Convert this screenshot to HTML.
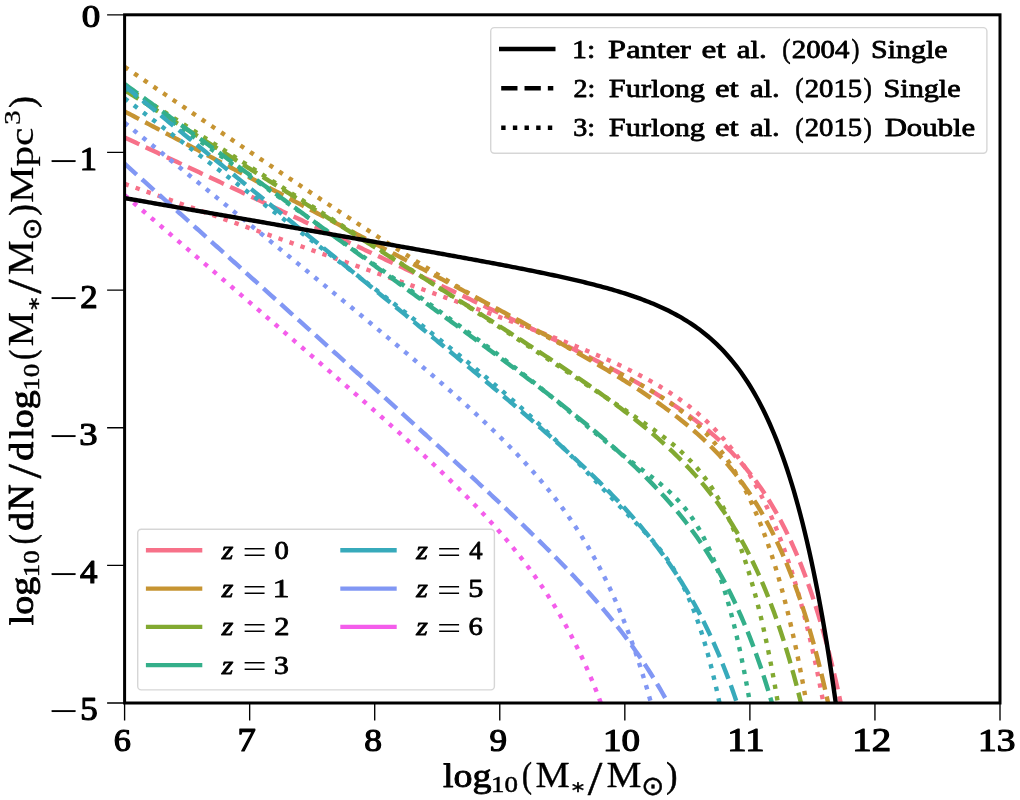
<!DOCTYPE html>
<html lang="en"><head><meta charset="utf-8"><title>Galaxy stellar mass functions</title>
<style>
html,body{margin:0;padding:0;background:#fff;}
body{width:1020px;height:800px;overflow:hidden;}
svg{display:block;}
text{font-family:"Liberation Serif","DejaVu Serif",serif;fill:#000;}
.b{font-weight:bold;}
.tk{font-size:34.6px;font-weight:bold;}
.lg{font-size:26.4px;font-weight:bold;}
.mi{font-style:italic;font-weight:bold;}
</style></head><body>
<svg width="1020" height="800" viewBox="0 0 1020 800">
<rect x="0" y="0" width="1020" height="800" fill="#fff"/>
<defs><clipPath id="ax"><rect x="124.60" y="14.80" width="875.40" height="688.20"/></clipPath></defs>
<g clip-path="url(#ax)">
<path d="M124.60 137.47 L126.79 138.49 L128.99 139.52 L131.18 140.55 L133.38 141.57 L135.57 142.60 L137.76 143.63 L139.96 144.65 L142.15 145.68 L144.35 146.70 L146.54 147.73 L148.73 148.76 L150.93 149.78 L153.12 150.81 L155.32 151.84 L157.51 152.86 L159.70 153.89 L161.90 154.91 L164.09 155.94 L166.29 156.97 L168.48 157.99 L170.67 159.02 L172.87 160.05 L175.06 161.07 L177.26 162.10 L179.45 163.13 L181.64 164.15 L183.84 165.18 L186.03 166.20 L188.23 167.23 L190.42 168.26 L192.61 169.28 L194.81 170.31 L197.00 171.34 L199.20 172.36 L201.39 173.39 L203.58 174.41 L205.78 175.44 L207.97 176.47 L210.17 177.49 L212.36 178.52 L214.55 179.55 L216.75 180.57 L218.94 181.60 L221.14 182.63 L223.33 183.65 L225.52 184.68 L227.72 185.70 L229.91 186.73 L232.11 187.76 L234.30 188.78 L236.49 189.81 L238.69 190.84 L240.88 191.86 L243.08 192.89 L245.27 193.92 L247.46 194.94 L249.66 195.97 L251.85 197.00 L254.05 198.02 L256.24 199.05 L258.43 200.07 L260.63 201.10 L262.82 202.13 L265.02 203.15 L267.21 204.18 L269.40 205.21 L271.60 206.23 L273.79 207.26 L275.98 208.29 L278.18 209.31 L280.37 210.34 L282.57 211.37 L284.76 212.39 L286.95 213.42 L289.15 214.45 L291.34 215.47 L293.54 216.50 L295.73 217.53 L297.92 218.55 L300.12 219.58 L302.31 220.61 L304.51 221.63 L306.70 222.66 L308.89 223.69 L311.09 224.71 L313.28 225.74 L315.48 226.77 L317.67 227.79 L319.86 228.82 L322.06 229.85 L324.25 230.87 L326.45 231.90 L328.64 232.93 L330.83 233.96 L333.03 234.98 L335.22 236.01 L337.42 237.04 L339.61 238.06 L341.80 239.09 L344.00 240.12 L346.19 241.15 L348.39 242.17 L350.58 243.20 L352.77 244.23 L354.97 245.26 L357.16 246.28 L359.36 247.31 L361.55 248.34 L363.74 249.37 L365.94 250.39 L368.13 251.42 L370.33 252.45 L372.52 253.48 L374.71 254.50 L376.91 255.53 L379.10 256.56 L381.30 257.59 L383.49 258.62 L385.68 259.65 L387.88 260.67 L390.07 261.70 L392.27 262.73 L394.46 263.76 L396.65 264.79 L398.85 265.82 L401.04 266.85 L403.24 267.88 L405.43 268.91 L407.62 269.93 L409.82 270.96 L412.01 271.99 L414.21 273.02 L416.40 274.05 L418.59 275.08 L420.79 276.11 L422.98 277.14 L425.18 278.18 L427.37 279.21 L429.56 280.24 L431.76 281.27 L433.95 282.30 L436.15 283.33 L438.34 284.36 L440.53 285.40 L442.73 286.43 L444.92 287.46 L447.12 288.49 L449.31 289.53 L451.50 290.56 L453.70 291.59 L455.89 292.63 L458.09 293.66 L460.28 294.70 L462.47 295.73 L464.67 296.77 L466.86 297.80 L469.06 298.84 L471.25 299.87 L473.44 300.91 L475.64 301.95 L477.83 302.99 L480.03 304.02 L482.22 305.06 L484.41 306.10 L486.61 307.14 L488.80 308.18 L491.00 309.22 L493.19 310.26 L495.38 311.31 L497.58 312.35 L499.77 313.39 L501.97 314.44 L504.16 315.48 L506.35 316.53 L508.55 317.57 L510.74 318.62 L512.94 319.67 L515.13 320.72 L517.32 321.77 L519.52 322.82 L521.71 323.87 L523.91 324.92 L526.10 325.98 L528.29 327.03 L530.49 328.09 L532.68 329.15 L534.88 330.21 L537.07 331.27 L539.26 332.33 L541.46 333.39 L543.65 334.46 L545.85 335.52 L548.04 336.59 L550.23 337.66 L552.43 338.73 L554.62 339.80 L556.82 340.88 L559.01 341.96 L561.20 343.04 L563.40 344.12 L565.59 345.20 L567.78 346.29 L569.98 347.38 L572.17 348.47 L574.37 349.56 L576.56 350.66 L578.75 351.76 L580.95 352.86 L583.14 353.97 L585.34 355.08 L587.53 356.19 L589.72 357.30 L591.92 358.42 L594.11 359.55 L596.31 360.68 L598.50 361.81 L600.69 362.94 L602.89 364.08 L605.08 365.23 L607.28 366.38 L609.47 367.54 L611.66 368.70 L613.86 369.86 L616.05 371.03 L618.25 372.21 L620.44 373.40 L622.63 374.59 L624.83 375.79 L627.02 376.99 L629.22 378.20 L631.41 379.42 L633.60 380.65 L635.80 381.89 L637.99 383.13 L640.19 384.39 L642.38 385.65 L644.57 386.92 L646.77 388.20 L648.96 389.50 L651.16 390.80 L653.35 392.12 L655.54 393.45 L657.74 394.79 L659.93 396.14 L662.13 397.51 L664.32 398.89 L666.51 400.28 L668.71 401.70 L670.90 403.12 L673.10 404.56 L675.29 406.03 L677.48 407.50 L679.68 409.00 L681.87 410.52 L684.07 412.05 L686.26 413.61 L688.45 415.19 L690.65 416.79 L692.84 418.42 L695.04 420.07 L697.23 421.75 L699.42 423.45 L701.62 425.18 L703.81 426.94 L706.01 428.73 L708.20 430.55 L710.39 432.41 L712.59 434.30 L714.78 436.22 L716.98 438.18 L719.17 440.18 L721.36 442.22 L723.56 444.31 L725.75 446.43 L727.95 448.60 L730.14 450.82 L732.33 453.09 L734.53 455.41 L736.72 457.78 L738.92 460.21 L741.11 462.69 L743.30 465.24 L745.50 467.84 L747.69 470.52 L749.89 473.26 L752.08 476.07 L754.27 478.95 L756.47 481.91 L758.66 484.96 L760.86 488.08 L763.05 491.29 L765.24 494.59 L767.44 497.99 L769.63 501.48 L771.83 505.07 L774.02 508.77 L776.21 512.58 L778.41 516.51 L780.60 520.55 L782.80 524.72 L784.99 529.02 L787.18 533.45 L789.38 538.03 L791.57 542.75 L793.77 547.62 L795.96 552.65 L798.15 557.85 L800.35 563.21 L802.54 568.76 L804.74 574.49 L806.93 580.42 L809.12 586.55 L811.32 592.89 L813.51 599.45 L815.71 606.23 L817.90 613.26 L820.09 620.53 L822.29 628.06 L824.48 635.86 L826.68 643.93 L828.87 652.30 L831.06 660.97 L833.26 669.95 L835.45 679.26 L837.65 688.92 L839.84 698.93 L842.03 709.31 L844.23 720.07 L846.42 731.24 L848.62 742.82 L850.81 754.84 L853.00 767.32 L855.20 780.26 L857.39 793.70 L859.58 807.64 L861.78 822.13 L863.97 837.16 L866.17 852.77 L868.36 868.99 L870.55 885.83 L872.75 903.32 L874.94 921.49" stroke="#f77189" stroke-width="4.40" fill="none" stroke-dasharray="16.28 7.04" stroke-linejoin="round"/>
<path d="M124.60 183.89 L126.79 184.67 L128.99 185.44 L131.18 186.22 L133.38 186.99 L135.57 187.77 L137.76 188.54 L139.96 189.32 L142.15 190.10 L144.35 190.87 L146.54 191.65 L148.73 192.42 L150.93 193.20 L153.12 193.97 L155.32 194.75 L157.51 195.52 L159.70 196.30 L161.90 197.07 L164.09 197.85 L166.29 198.63 L168.48 199.40 L170.67 200.18 L172.87 200.95 L175.06 201.73 L177.26 202.50 L179.45 203.28 L181.64 204.05 L183.84 204.83 L186.03 205.60 L188.23 206.38 L190.42 207.16 L192.61 207.93 L194.81 208.71 L197.00 209.48 L199.20 210.26 L201.39 211.03 L203.58 211.81 L205.78 212.58 L207.97 213.36 L210.17 214.13 L212.36 214.91 L214.55 215.69 L216.75 216.46 L218.94 217.24 L221.14 218.01 L223.33 218.79 L225.52 219.56 L227.72 220.34 L229.91 221.11 L232.11 221.89 L234.30 222.67 L236.49 223.44 L238.69 224.22 L240.88 224.99 L243.08 225.77 L245.27 226.54 L247.46 227.32 L249.66 228.09 L251.85 228.87 L254.05 229.65 L256.24 230.42 L258.43 231.20 L260.63 231.97 L262.82 232.75 L265.02 233.52 L267.21 234.30 L269.40 235.08 L271.60 235.85 L273.79 236.63 L275.98 237.40 L278.18 238.18 L280.37 238.96 L282.57 239.73 L284.76 240.51 L286.95 241.28 L289.15 242.06 L291.34 242.83 L293.54 243.61 L295.73 244.39 L297.92 245.16 L300.12 245.94 L302.31 246.72 L304.51 247.49 L306.70 248.27 L308.89 249.04 L311.09 249.82 L313.28 250.60 L315.48 251.37 L317.67 252.15 L319.86 252.93 L322.06 253.70 L324.25 254.48 L326.45 255.25 L328.64 256.03 L330.83 256.81 L333.03 257.58 L335.22 258.36 L337.42 259.14 L339.61 259.91 L341.80 260.69 L344.00 261.47 L346.19 262.25 L348.39 263.02 L350.58 263.80 L352.77 264.58 L354.97 265.35 L357.16 266.13 L359.36 266.91 L361.55 267.69 L363.74 268.46 L365.94 269.24 L368.13 270.02 L370.33 270.80 L372.52 271.58 L374.71 272.35 L376.91 273.13 L379.10 273.91 L381.30 274.69 L383.49 275.47 L385.68 276.25 L387.88 277.03 L390.07 277.80 L392.27 278.58 L394.46 279.36 L396.65 280.14 L398.85 280.92 L401.04 281.70 L403.24 282.48 L405.43 283.26 L407.62 284.04 L409.82 284.82 L412.01 285.60 L414.21 286.39 L416.40 287.17 L418.59 287.95 L420.79 288.73 L422.98 289.51 L425.18 290.30 L427.37 291.08 L429.56 291.86 L431.76 292.64 L433.95 293.43 L436.15 294.21 L438.34 295.00 L440.53 295.78 L442.73 296.57 L444.92 297.35 L447.12 298.14 L449.31 298.92 L451.50 299.71 L453.70 300.50 L455.89 301.29 L458.09 302.07 L460.28 302.86 L462.47 303.65 L464.67 304.44 L466.86 305.23 L469.06 306.02 L471.25 306.82 L473.44 307.61 L475.64 308.40 L477.83 309.20 L480.03 309.99 L482.22 310.79 L484.41 311.58 L486.61 312.38 L488.80 313.18 L491.00 313.98 L493.19 314.78 L495.38 315.58 L497.58 316.38 L499.77 317.18 L501.97 317.99 L504.16 318.79 L506.35 319.60 L508.55 320.41 L510.74 321.22 L512.94 322.03 L515.13 322.84 L517.32 323.65 L519.52 324.47 L521.71 325.29 L523.91 326.11 L526.10 326.93 L528.29 327.75 L530.49 328.57 L532.68 329.40 L534.88 330.23 L537.07 331.06 L539.26 331.89 L541.46 332.73 L543.65 333.56 L545.85 334.40 L548.04 335.25 L550.23 336.09 L552.43 336.94 L554.62 337.79 L556.82 338.65 L559.01 339.51 L561.20 340.37 L563.40 341.23 L565.59 342.10 L567.78 342.98 L569.98 343.85 L572.17 344.73 L574.37 345.62 L576.56 346.51 L578.75 347.40 L580.95 348.30 L583.14 349.21 L585.34 350.12 L587.53 351.03 L589.72 351.95 L591.92 352.88 L594.11 353.81 L596.31 354.75 L598.50 355.70 L600.69 356.65 L602.89 357.62 L605.08 358.58 L607.28 359.56 L609.47 360.55 L611.66 361.54 L613.86 362.54 L616.05 363.56 L618.25 364.58 L620.44 365.61 L622.63 366.65 L624.83 367.71 L627.02 368.77 L629.22 369.85 L631.41 370.94 L633.60 372.04 L635.80 373.16 L637.99 374.29 L640.19 375.43 L642.38 376.59 L644.57 377.77 L646.77 378.96 L648.96 380.17 L651.16 381.40 L653.35 382.64 L655.54 383.91 L657.74 385.19 L659.93 386.50 L662.13 387.83 L664.32 389.18 L666.51 390.55 L668.71 391.95 L670.90 393.38 L673.10 394.83 L675.29 396.31 L677.48 397.82 L679.68 399.36 L681.87 400.93 L684.07 402.53 L686.26 404.17 L688.45 405.85 L690.65 407.56 L692.84 409.30 L695.04 411.09 L697.23 412.92 L699.42 414.80 L701.62 416.72 L703.81 418.69 L706.01 420.70 L708.20 422.77 L710.39 424.89 L712.59 427.07 L714.78 429.30 L716.98 431.59 L719.17 433.95 L721.36 436.37 L723.56 438.86 L725.75 441.42 L727.95 444.05 L730.14 446.76 L732.33 449.55 L734.53 452.43 L736.72 455.39 L738.92 458.44 L741.11 461.58 L743.30 464.82 L745.50 468.16 L747.69 471.61 L749.89 475.17 L752.08 478.84 L754.27 482.63 L756.47 486.55 L758.66 490.60 L760.86 494.78 L763.05 499.10 L765.24 503.57 L767.44 508.19 L769.63 512.97 L771.83 517.91 L774.02 523.03 L776.21 528.32 L778.41 533.80 L780.60 539.48 L782.80 545.35 L784.99 551.44 L787.18 557.75 L789.38 564.28 L791.57 571.05 L793.77 578.07 L795.96 585.35 L798.15 592.89 L800.35 600.71 L802.54 608.83 L804.74 617.24 L806.93 625.97 L809.12 635.03 L811.32 644.43 L813.51 654.19 L815.71 664.31 L817.90 674.83 L820.09 685.74 L822.29 697.07 L824.48 708.84 L826.68 721.05 L828.87 733.75 L831.06 746.93 L833.26 760.62 L835.45 774.85 L837.65 789.63 L839.84 804.98 L842.03 820.94 L844.23 837.53 L846.42 854.76 L848.62 872.68 L850.81 891.30 L853.00 910.66" stroke="#f77189" stroke-width="4.40" fill="none" stroke-dasharray="4.40 7.26" stroke-linejoin="round"/>
<path d="M124.60 111.42 L126.79 112.58 L128.99 113.74 L131.18 114.90 L133.38 116.06 L135.57 117.21 L137.76 118.37 L139.96 119.53 L142.15 120.69 L144.35 121.85 L146.54 123.01 L148.73 124.17 L150.93 125.33 L153.12 126.49 L155.32 127.65 L157.51 128.81 L159.70 129.97 L161.90 131.12 L164.09 132.28 L166.29 133.44 L168.48 134.60 L170.67 135.76 L172.87 136.92 L175.06 138.08 L177.26 139.24 L179.45 140.40 L181.64 141.56 L183.84 142.72 L186.03 143.87 L188.23 145.03 L190.42 146.19 L192.61 147.35 L194.81 148.51 L197.00 149.67 L199.20 150.83 L201.39 151.99 L203.58 153.15 L205.78 154.31 L207.97 155.47 L210.17 156.63 L212.36 157.78 L214.55 158.94 L216.75 160.10 L218.94 161.26 L221.14 162.42 L223.33 163.58 L225.52 164.74 L227.72 165.90 L229.91 167.06 L232.11 168.22 L234.30 169.38 L236.49 170.54 L238.69 171.69 L240.88 172.85 L243.08 174.01 L245.27 175.17 L247.46 176.33 L249.66 177.49 L251.85 178.65 L254.05 179.81 L256.24 180.97 L258.43 182.13 L260.63 183.29 L262.82 184.45 L265.02 185.61 L267.21 186.77 L269.40 187.93 L271.60 189.08 L273.79 190.24 L275.98 191.40 L278.18 192.56 L280.37 193.72 L282.57 194.88 L284.76 196.04 L286.95 197.20 L289.15 198.36 L291.34 199.52 L293.54 200.68 L295.73 201.84 L297.92 203.00 L300.12 204.16 L302.31 205.32 L304.51 206.48 L306.70 207.64 L308.89 208.80 L311.09 209.96 L313.28 211.12 L315.48 212.28 L317.67 213.44 L319.86 214.60 L322.06 215.76 L324.25 216.92 L326.45 218.08 L328.64 219.24 L330.83 220.40 L333.03 221.56 L335.22 222.72 L337.42 223.88 L339.61 225.04 L341.80 226.20 L344.00 227.36 L346.19 228.52 L348.39 229.68 L350.58 230.84 L352.77 232.00 L354.97 233.16 L357.16 234.32 L359.36 235.48 L361.55 236.64 L363.74 237.80 L365.94 238.96 L368.13 240.12 L370.33 241.28 L372.52 242.44 L374.71 243.61 L376.91 244.77 L379.10 245.93 L381.30 247.09 L383.49 248.25 L385.68 249.41 L387.88 250.57 L390.07 251.74 L392.27 252.90 L394.46 254.06 L396.65 255.22 L398.85 256.38 L401.04 257.55 L403.24 258.71 L405.43 259.87 L407.62 261.03 L409.82 262.20 L412.01 263.36 L414.21 264.52 L416.40 265.69 L418.59 266.85 L420.79 268.02 L422.98 269.18 L425.18 270.34 L427.37 271.51 L429.56 272.67 L431.76 273.84 L433.95 275.00 L436.15 276.17 L438.34 277.33 L440.53 278.50 L442.73 279.67 L444.92 280.83 L447.12 282.00 L449.31 283.17 L451.50 284.33 L453.70 285.50 L455.89 286.67 L458.09 287.84 L460.28 289.01 L462.47 290.18 L464.67 291.35 L466.86 292.52 L469.06 293.69 L471.25 294.86 L473.44 296.03 L475.64 297.20 L477.83 298.38 L480.03 299.55 L482.22 300.72 L484.41 301.90 L486.61 303.07 L488.80 304.25 L491.00 305.43 L493.19 306.60 L495.38 307.78 L497.58 308.96 L499.77 310.14 L501.97 311.32 L504.16 312.50 L506.35 313.69 L508.55 314.87 L510.74 316.05 L512.94 317.24 L515.13 318.42 L517.32 319.61 L519.52 320.80 L521.71 321.99 L523.91 323.18 L526.10 324.37 L528.29 325.57 L530.49 326.76 L532.68 327.96 L534.88 329.16 L537.07 330.36 L539.26 331.56 L541.46 332.76 L543.65 333.97 L545.85 335.18 L548.04 336.39 L550.23 337.60 L552.43 338.81 L554.62 340.03 L556.82 341.24 L559.01 342.47 L561.20 343.69 L563.40 344.91 L565.59 346.14 L567.78 347.37 L569.98 348.61 L572.17 349.84 L574.37 351.09 L576.56 352.33 L578.75 353.58 L580.95 354.83 L583.14 356.08 L585.34 357.34 L587.53 358.60 L589.72 359.87 L591.92 361.14 L594.11 362.42 L596.31 363.70 L598.50 364.99 L600.69 366.28 L602.89 367.57 L605.08 368.88 L607.28 370.18 L609.47 371.50 L611.66 372.82 L613.86 374.15 L616.05 375.48 L618.25 376.82 L620.44 378.17 L622.63 379.53 L624.83 380.89 L627.02 382.27 L629.22 383.65 L631.41 385.04 L633.60 386.44 L635.80 387.85 L637.99 389.28 L640.19 390.71 L642.38 392.15 L644.57 393.61 L646.77 395.08 L648.96 396.56 L651.16 398.05 L653.35 399.56 L655.54 401.08 L657.74 402.62 L659.93 404.17 L662.13 405.74 L664.32 407.32 L666.51 408.93 L668.71 410.55 L670.90 412.19 L673.10 413.85 L675.29 415.53 L677.48 417.23 L679.68 418.96 L681.87 420.71 L684.07 422.48 L686.26 424.28 L688.45 426.10 L690.65 427.95 L692.84 429.83 L695.04 431.74 L697.23 433.68 L699.42 435.66 L701.62 437.66 L703.81 439.70 L706.01 441.78 L708.20 443.90 L710.39 446.05 L712.59 448.25 L714.78 450.49 L716.98 452.77 L719.17 455.10 L721.36 457.48 L723.56 459.91 L725.75 462.39 L727.95 464.93 L730.14 467.52 L732.33 470.17 L734.53 472.88 L736.72 475.66 L738.92 478.50 L741.11 481.41 L743.30 484.40 L745.50 487.46 L747.69 490.60 L749.89 493.82 L752.08 497.12 L754.27 500.52 L756.47 504.00 L758.66 507.58 L760.86 511.27 L763.05 515.05 L765.24 518.95 L767.44 522.95 L769.63 527.08 L771.83 531.32 L774.02 535.70 L776.21 540.20 L778.41 544.85 L780.60 549.63 L782.80 554.57 L784.99 559.66 L787.18 564.92 L789.38 570.34 L791.57 575.94 L793.77 581.73 L795.96 587.70 L798.15 593.87 L800.35 600.25 L802.54 606.84 L804.74 613.66 L806.93 620.71 L809.12 628.01 L811.32 635.55 L813.51 643.36 L815.71 651.45 L817.90 659.82 L820.09 668.49 L822.29 677.46 L824.48 686.76 L826.68 696.40 L828.87 706.38 L831.06 716.73 L833.26 727.45 L835.45 738.58 L837.65 750.11 L839.84 762.07 L842.03 774.47 L844.23 787.34 L846.42 800.69 L848.62 814.54 L850.81 828.92 L853.00 843.84 L855.20 859.33 L857.39 875.41 L859.58 892.10 L861.78 909.44 L863.97 927.44" stroke="#c69432" stroke-width="4.40" fill="none" stroke-dasharray="16.28 7.04" stroke-linejoin="round"/>
<path d="M124.60 66.92 L126.79 68.42 L128.99 69.91 L131.18 71.40 L133.38 72.89 L135.57 74.39 L137.76 75.88 L139.96 77.37 L142.15 78.86 L144.35 80.35 L146.54 81.85 L148.73 83.34 L150.93 84.83 L153.12 86.32 L155.32 87.81 L157.51 89.30 L159.70 90.79 L161.90 92.28 L164.09 93.77 L166.29 95.26 L168.48 96.75 L170.67 98.24 L172.87 99.73 L175.06 101.22 L177.26 102.71 L179.45 104.20 L181.64 105.69 L183.84 107.17 L186.03 108.66 L188.23 110.15 L190.42 111.64 L192.61 113.13 L194.81 114.61 L197.00 116.10 L199.20 117.59 L201.39 119.07 L203.58 120.56 L205.78 122.05 L207.97 123.53 L210.17 125.02 L212.36 126.50 L214.55 127.99 L216.75 129.47 L218.94 130.95 L221.14 132.44 L223.33 133.92 L225.52 135.40 L227.72 136.89 L229.91 138.37 L232.11 139.85 L234.30 141.33 L236.49 142.81 L238.69 144.29 L240.88 145.77 L243.08 147.25 L245.27 148.73 L247.46 150.21 L249.66 151.69 L251.85 153.17 L254.05 154.65 L256.24 156.12 L258.43 157.60 L260.63 159.07 L262.82 160.55 L265.02 162.03 L267.21 163.50 L269.40 164.97 L271.60 166.45 L273.79 167.92 L275.98 169.39 L278.18 170.86 L280.37 172.33 L282.57 173.80 L284.76 175.27 L286.95 176.74 L289.15 178.21 L291.34 179.67 L293.54 181.14 L295.73 182.61 L297.92 184.07 L300.12 185.53 L302.31 187.00 L304.51 188.46 L306.70 189.92 L308.89 191.38 L311.09 192.84 L313.28 194.30 L315.48 195.76 L317.67 197.21 L319.86 198.67 L322.06 200.12 L324.25 201.58 L326.45 203.03 L328.64 204.48 L330.83 205.93 L333.03 207.38 L335.22 208.83 L337.42 210.27 L339.61 211.72 L341.80 213.16 L344.00 214.61 L346.19 216.05 L348.39 217.49 L350.58 218.93 L352.77 220.36 L354.97 221.80 L357.16 223.24 L359.36 224.67 L361.55 226.10 L363.74 227.53 L365.94 228.96 L368.13 230.38 L370.33 231.81 L372.52 233.23 L374.71 234.65 L376.91 236.07 L379.10 237.49 L381.30 238.90 L383.49 240.32 L385.68 241.73 L387.88 243.14 L390.07 244.55 L392.27 245.95 L394.46 247.36 L396.65 248.76 L398.85 250.16 L401.04 251.55 L403.24 252.95 L405.43 254.34 L407.62 255.73 L409.82 257.12 L412.01 258.50 L414.21 259.88 L416.40 261.26 L418.59 262.64 L420.79 264.01 L422.98 265.39 L425.18 266.75 L427.37 268.12 L429.56 269.48 L431.76 270.84 L433.95 272.20 L436.15 273.55 L438.34 274.90 L440.53 276.25 L442.73 277.59 L444.92 278.93 L447.12 280.27 L449.31 281.61 L451.50 282.94 L453.70 284.26 L455.89 285.59 L458.09 286.91 L460.28 288.22 L462.47 289.54 L464.67 290.84 L466.86 292.15 L469.06 293.45 L471.25 294.75 L473.44 296.04 L475.64 297.33 L477.83 298.62 L480.03 299.90 L482.22 301.17 L484.41 302.45 L486.61 303.71 L488.80 304.98 L491.00 306.24 L493.19 307.49 L495.38 308.74 L497.58 309.99 L499.77 311.23 L501.97 312.47 L504.16 313.70 L506.35 314.93 L508.55 316.16 L510.74 317.37 L512.94 318.59 L515.13 319.80 L517.32 321.00 L519.52 322.21 L521.71 323.40 L523.91 324.59 L526.10 325.78 L528.29 326.96 L530.49 328.14 L532.68 329.31 L534.88 330.48 L537.07 331.65 L539.26 332.81 L541.46 333.96 L543.65 335.12 L545.85 336.26 L548.04 337.41 L550.23 338.54 L552.43 339.68 L554.62 340.81 L556.82 341.94 L559.01 343.06 L561.20 344.18 L563.40 345.30 L565.59 346.41 L567.78 347.52 L569.98 348.63 L572.17 349.74 L574.37 350.84 L576.56 351.94 L578.75 353.04 L580.95 354.13 L583.14 355.23 L585.34 356.32 L587.53 357.41 L589.72 358.51 L591.92 359.60 L594.11 360.69 L596.31 361.78 L598.50 362.87 L600.69 363.97 L602.89 365.06 L605.08 366.16 L607.28 367.26 L609.47 368.36 L611.66 369.47 L613.86 370.58 L616.05 371.69 L618.25 372.81 L620.44 373.93 L622.63 375.07 L624.83 376.20 L627.02 377.35 L629.22 378.51 L631.41 379.67 L633.60 380.84 L635.80 382.03 L637.99 383.23 L640.19 384.44 L642.38 385.66 L644.57 386.90 L646.77 388.15 L648.96 389.42 L651.16 390.71 L653.35 392.02 L655.54 393.35 L657.74 394.70 L659.93 396.07 L662.13 397.47 L664.32 398.89 L666.51 400.34 L668.71 401.82 L670.90 403.33 L673.10 404.87 L675.29 406.45 L677.48 408.06 L679.68 409.71 L681.87 411.41 L684.07 413.14 L686.26 414.91 L688.45 416.74 L690.65 418.61 L692.84 420.53 L695.04 422.51 L697.23 424.54 L699.42 426.63 L701.62 428.79 L703.81 431.01 L706.01 433.29 L708.20 435.65 L710.39 438.09 L712.59 440.60 L714.78 443.19 L716.98 445.87 L719.17 448.64 L721.36 451.50 L723.56 454.46 L725.75 457.52 L727.95 460.69 L730.14 463.97 L732.33 467.37 L734.53 470.89 L736.72 474.54 L738.92 478.32 L741.11 482.23 L743.30 486.30 L745.50 490.51 L747.69 494.88 L749.89 499.42 L752.08 504.13 L754.27 509.02 L756.47 514.09 L758.66 519.36 L760.86 524.83 L763.05 530.51 L765.24 536.42 L767.44 542.55 L769.63 548.93 L771.83 555.56 L774.02 562.44 L776.21 569.60 L778.41 577.04 L780.60 584.78 L782.80 592.83 L784.99 601.19 L787.18 609.90 L789.38 618.95 L791.57 628.36 L793.77 638.15 L795.96 648.33 L798.15 658.93 L800.35 669.95 L802.54 681.42 L804.74 693.36 L806.93 705.78 L809.12 718.70 L811.32 732.14 L813.51 746.14 L815.71 760.70 L817.90 775.86 L820.09 791.63 L822.29 808.05 L824.48 825.13 L826.68 842.92 L828.87 861.43 L831.06 880.70 L833.26 900.76 L835.45 921.64" stroke="#c69432" stroke-width="4.40" fill="none" stroke-dasharray="4.40 7.26" stroke-linejoin="round"/>
<path d="M124.60 90.24 L126.79 91.62 L128.99 92.99 L131.18 94.37 L133.38 95.75 L135.57 97.12 L137.76 98.50 L139.96 99.87 L142.15 101.25 L144.35 102.63 L146.54 104.00 L148.73 105.38 L150.93 106.76 L153.12 108.13 L155.32 109.51 L157.51 110.89 L159.70 112.26 L161.90 113.64 L164.09 115.02 L166.29 116.39 L168.48 117.77 L170.67 119.14 L172.87 120.52 L175.06 121.90 L177.26 123.27 L179.45 124.65 L181.64 126.03 L183.84 127.40 L186.03 128.78 L188.23 130.16 L190.42 131.53 L192.61 132.91 L194.81 134.29 L197.00 135.66 L199.20 137.04 L201.39 138.42 L203.58 139.79 L205.78 141.17 L207.97 142.55 L210.17 143.92 L212.36 145.30 L214.55 146.68 L216.75 148.05 L218.94 149.43 L221.14 150.80 L223.33 152.18 L225.52 153.56 L227.72 154.93 L229.91 156.31 L232.11 157.69 L234.30 159.06 L236.49 160.44 L238.69 161.82 L240.88 163.19 L243.08 164.57 L245.27 165.95 L247.46 167.32 L249.66 168.70 L251.85 170.08 L254.05 171.45 L256.24 172.83 L258.43 174.21 L260.63 175.58 L262.82 176.96 L265.02 178.34 L267.21 179.71 L269.40 181.09 L271.60 182.47 L273.79 183.85 L275.98 185.22 L278.18 186.60 L280.37 187.98 L282.57 189.35 L284.76 190.73 L286.95 192.11 L289.15 193.48 L291.34 194.86 L293.54 196.24 L295.73 197.62 L297.92 198.99 L300.12 200.37 L302.31 201.75 L304.51 203.12 L306.70 204.50 L308.89 205.88 L311.09 207.26 L313.28 208.63 L315.48 210.01 L317.67 211.39 L319.86 212.77 L322.06 214.14 L324.25 215.52 L326.45 216.90 L328.64 218.28 L330.83 219.65 L333.03 221.03 L335.22 222.41 L337.42 223.79 L339.61 225.16 L341.80 226.54 L344.00 227.92 L346.19 229.30 L348.39 230.68 L350.58 232.06 L352.77 233.43 L354.97 234.81 L357.16 236.19 L359.36 237.57 L361.55 238.95 L363.74 240.33 L365.94 241.71 L368.13 243.08 L370.33 244.46 L372.52 245.84 L374.71 247.22 L376.91 248.60 L379.10 249.98 L381.30 251.36 L383.49 252.74 L385.68 254.12 L387.88 255.50 L390.07 256.88 L392.27 258.26 L394.46 259.64 L396.65 261.02 L398.85 262.40 L401.04 263.78 L403.24 265.17 L405.43 266.55 L407.62 267.93 L409.82 269.31 L412.01 270.69 L414.21 272.08 L416.40 273.46 L418.59 274.84 L420.79 276.22 L422.98 277.61 L425.18 278.99 L427.37 280.38 L429.56 281.76 L431.76 283.14 L433.95 284.53 L436.15 285.92 L438.34 287.30 L440.53 288.69 L442.73 290.07 L444.92 291.46 L447.12 292.85 L449.31 294.24 L451.50 295.62 L453.70 297.01 L455.89 298.40 L458.09 299.79 L460.28 301.18 L462.47 302.57 L464.67 303.97 L466.86 305.36 L469.06 306.75 L471.25 308.14 L473.44 309.54 L475.64 310.93 L477.83 312.33 L480.03 313.73 L482.22 315.12 L484.41 316.52 L486.61 317.92 L488.80 319.32 L491.00 320.72 L493.19 322.13 L495.38 323.53 L497.58 324.93 L499.77 326.34 L501.97 327.75 L504.16 329.15 L506.35 330.56 L508.55 331.97 L510.74 333.39 L512.94 334.80 L515.13 336.21 L517.32 337.63 L519.52 339.05 L521.71 340.47 L523.91 341.89 L526.10 343.31 L528.29 344.74 L530.49 346.17 L532.68 347.60 L534.88 349.03 L537.07 350.46 L539.26 351.90 L541.46 353.34 L543.65 354.78 L545.85 356.23 L548.04 357.67 L550.23 359.12 L552.43 360.58 L554.62 362.03 L556.82 363.49 L559.01 364.95 L561.20 366.42 L563.40 367.89 L565.59 369.37 L567.78 370.84 L569.98 372.33 L572.17 373.81 L574.37 375.30 L576.56 376.80 L578.75 378.30 L580.95 379.81 L583.14 381.32 L585.34 382.84 L587.53 384.36 L589.72 385.89 L591.92 387.42 L594.11 388.97 L596.31 390.51 L598.50 392.07 L600.69 393.63 L602.89 395.20 L605.08 396.78 L607.28 398.37 L609.47 399.97 L611.66 401.57 L613.86 403.19 L616.05 404.81 L618.25 406.44 L620.44 408.09 L622.63 409.74 L624.83 411.41 L627.02 413.09 L629.22 414.78 L631.41 416.49 L633.60 418.21 L635.80 419.94 L637.99 421.69 L640.19 423.45 L642.38 425.23 L644.57 427.02 L646.77 428.84 L648.96 430.67 L651.16 432.52 L653.35 434.38 L655.54 436.27 L657.74 438.18 L659.93 440.12 L662.13 442.07 L664.32 444.05 L666.51 446.05 L668.71 448.08 L670.90 450.14 L673.10 452.22 L675.29 454.34 L677.48 456.48 L679.68 458.66 L681.87 460.87 L684.07 463.11 L686.26 465.39 L688.45 467.70 L690.65 470.06 L692.84 472.45 L695.04 474.89 L697.23 477.37 L699.42 479.90 L701.62 482.47 L703.81 485.09 L706.01 487.77 L708.20 490.50 L710.39 493.28 L712.59 496.12 L714.78 499.02 L716.98 501.99 L719.17 505.02 L721.36 508.12 L723.56 511.29 L725.75 514.53 L727.95 517.85 L730.14 521.25 L732.33 524.73 L734.53 528.31 L736.72 531.97 L738.92 535.72 L741.11 539.58 L743.30 543.53 L745.50 547.59 L747.69 551.77 L749.89 556.05 L752.08 560.46 L754.27 564.99 L756.47 569.66 L758.66 574.46 L760.86 579.40 L763.05 584.48 L765.24 589.72 L767.44 595.12 L769.63 600.69 L771.83 606.42 L774.02 612.34 L776.21 618.44 L778.41 624.74 L780.60 631.24 L782.80 637.96 L784.99 644.89 L787.18 652.05 L789.38 659.45 L791.57 667.10 L793.77 675.01 L795.96 683.19 L798.15 691.65 L800.35 700.39 L802.54 709.45 L804.74 718.82 L806.93 728.52 L809.12 738.56 L811.32 748.96 L813.51 759.73 L815.71 770.89 L817.90 782.45 L820.09 794.43 L822.29 806.85 L824.48 819.73 L826.68 833.07 L828.87 846.92 L831.06 861.27 L833.26 876.16 L835.45 891.61 L837.65 907.64 L839.84 924.27" stroke="#82a931" stroke-width="4.40" fill="none" stroke-dasharray="16.28 7.04" stroke-linejoin="round"/>
<path d="M124.60 86.61 L126.79 88.01 L128.99 89.41 L131.18 90.81 L133.38 92.21 L135.57 93.61 L137.76 95.01 L139.96 96.41 L142.15 97.82 L144.35 99.22 L146.54 100.62 L148.73 102.02 L150.93 103.42 L153.12 104.82 L155.32 106.22 L157.51 107.62 L159.70 109.02 L161.90 110.42 L164.09 111.82 L166.29 113.22 L168.48 114.62 L170.67 116.02 L172.87 117.43 L175.06 118.83 L177.26 120.23 L179.45 121.63 L181.64 123.03 L183.84 124.43 L186.03 125.83 L188.23 127.23 L190.42 128.63 L192.61 130.03 L194.81 131.43 L197.00 132.83 L199.20 134.23 L201.39 135.64 L203.58 137.04 L205.78 138.44 L207.97 139.84 L210.17 141.24 L212.36 142.64 L214.55 144.04 L216.75 145.44 L218.94 146.84 L221.14 148.24 L223.33 149.65 L225.52 151.05 L227.72 152.45 L229.91 153.85 L232.11 155.25 L234.30 156.65 L236.49 158.05 L238.69 159.45 L240.88 160.85 L243.08 162.26 L245.27 163.66 L247.46 165.06 L249.66 166.46 L251.85 167.86 L254.05 169.26 L256.24 170.66 L258.43 172.06 L260.63 173.47 L262.82 174.87 L265.02 176.27 L267.21 177.67 L269.40 179.07 L271.60 180.47 L273.79 181.88 L275.98 183.28 L278.18 184.68 L280.37 186.08 L282.57 187.48 L284.76 188.88 L286.95 190.29 L289.15 191.69 L291.34 193.09 L293.54 194.49 L295.73 195.90 L297.92 197.30 L300.12 198.70 L302.31 200.10 L304.51 201.50 L306.70 202.91 L308.89 204.31 L311.09 205.71 L313.28 207.12 L315.48 208.52 L317.67 209.92 L319.86 211.32 L322.06 212.73 L324.25 214.13 L326.45 215.53 L328.64 216.94 L330.83 218.34 L333.03 219.74 L335.22 221.15 L337.42 222.55 L339.61 223.96 L341.80 225.36 L344.00 226.76 L346.19 228.17 L348.39 229.57 L350.58 230.98 L352.77 232.38 L354.97 233.79 L357.16 235.19 L359.36 236.60 L361.55 238.00 L363.74 239.41 L365.94 240.82 L368.13 242.22 L370.33 243.63 L372.52 245.04 L374.71 246.44 L376.91 247.85 L379.10 249.26 L381.30 250.66 L383.49 252.07 L385.68 253.48 L387.88 254.89 L390.07 256.30 L392.27 257.71 L394.46 259.11 L396.65 260.52 L398.85 261.93 L401.04 263.34 L403.24 264.75 L405.43 266.16 L407.62 267.58 L409.82 268.99 L412.01 270.40 L414.21 271.81 L416.40 273.22 L418.59 274.64 L420.79 276.05 L422.98 277.46 L425.18 278.88 L427.37 280.29 L429.56 281.71 L431.76 283.12 L433.95 284.54 L436.15 285.96 L438.34 287.37 L440.53 288.79 L442.73 290.21 L444.92 291.63 L447.12 293.05 L449.31 294.47 L451.50 295.89 L453.70 297.31 L455.89 298.73 L458.09 300.15 L460.28 301.58 L462.47 303.00 L464.67 304.42 L466.86 305.85 L469.06 307.27 L471.25 308.70 L473.44 310.13 L475.64 311.56 L477.83 312.99 L480.03 314.41 L482.22 315.85 L484.41 317.28 L486.61 318.71 L488.80 320.14 L491.00 321.57 L493.19 323.01 L495.38 324.44 L497.58 325.88 L499.77 327.32 L501.97 328.75 L504.16 330.19 L506.35 331.63 L508.55 333.07 L510.74 334.51 L512.94 335.96 L515.13 337.40 L517.32 338.84 L519.52 340.29 L521.71 341.73 L523.91 343.18 L526.10 344.63 L528.29 346.07 L530.49 347.52 L532.68 348.97 L534.88 350.42 L537.07 351.87 L539.26 353.32 L541.46 354.77 L543.65 356.23 L545.85 357.68 L548.04 359.13 L550.23 360.59 L552.43 362.04 L554.62 363.49 L556.82 364.95 L559.01 366.40 L561.20 367.86 L563.40 369.31 L565.59 370.77 L567.78 372.22 L569.98 373.68 L572.17 375.13 L574.37 376.59 L576.56 378.04 L578.75 379.50 L580.95 380.95 L583.14 382.40 L585.34 383.86 L587.53 385.31 L589.72 386.76 L591.92 388.21 L594.11 389.66 L596.31 391.11 L598.50 392.56 L600.69 394.01 L602.89 395.46 L605.08 396.91 L607.28 398.35 L609.47 399.80 L611.66 401.25 L613.86 402.70 L616.05 404.14 L618.25 405.59 L620.44 407.04 L622.63 408.49 L624.83 409.95 L627.02 411.40 L629.22 412.86 L631.41 414.33 L633.60 415.79 L635.80 417.27 L637.99 418.75 L640.19 420.23 L642.38 421.73 L644.57 423.23 L646.77 424.75 L648.96 426.28 L651.16 427.82 L653.35 429.38 L655.54 430.96 L657.74 432.56 L659.93 434.18 L662.13 435.83 L664.32 437.50 L666.51 439.21 L668.71 440.94 L670.90 442.72 L673.10 444.53 L675.29 446.38 L677.48 448.29 L679.68 450.24 L681.87 452.25 L684.07 454.32 L686.26 456.45 L688.45 458.65 L690.65 460.93 L692.84 463.28 L695.04 465.72 L697.23 468.24 L699.42 470.87 L701.62 473.59 L703.81 476.43 L706.01 479.38 L708.20 482.45 L710.39 485.66 L712.59 489.00 L714.78 492.49 L716.98 496.13 L719.17 499.93 L721.36 503.91 L723.56 508.06 L725.75 512.41 L727.95 516.95 L730.14 521.71 L732.33 526.68 L734.53 531.89 L736.72 537.34 L738.92 543.05 L741.11 549.02 L743.30 555.27 L745.50 561.82 L747.69 568.67 L749.89 575.85 L752.08 583.36 L754.27 591.22 L756.47 599.45 L758.66 608.07 L760.86 617.08 L763.05 626.51 L765.24 636.38 L767.44 646.71 L769.63 657.51 L771.83 668.82 L774.02 680.63 L776.21 693.00 L778.41 705.92 L780.60 719.43 L782.80 733.56 L784.99 748.33 L787.18 763.76 L789.38 779.89 L791.57 796.75 L793.77 814.36 L795.96 832.76 L798.15 851.98 L800.35 872.05 L802.54 893.01 L804.74 914.90" stroke="#82a931" stroke-width="4.40" fill="none" stroke-dasharray="4.40 7.26" stroke-linejoin="round"/>
<path d="M124.60 84.00 L126.79 85.60 L128.99 87.19 L131.18 88.78 L133.38 90.38 L135.57 91.97 L137.76 93.57 L139.96 95.16 L142.15 96.75 L144.35 98.35 L146.54 99.94 L148.73 101.53 L150.93 103.13 L153.12 104.72 L155.32 106.32 L157.51 107.91 L159.70 109.50 L161.90 111.10 L164.09 112.69 L166.29 114.29 L168.48 115.88 L170.67 117.47 L172.87 119.07 L175.06 120.66 L177.26 122.25 L179.45 123.85 L181.64 125.44 L183.84 127.04 L186.03 128.63 L188.23 130.22 L190.42 131.82 L192.61 133.41 L194.81 135.01 L197.00 136.60 L199.20 138.19 L201.39 139.79 L203.58 141.38 L205.78 142.97 L207.97 144.57 L210.17 146.16 L212.36 147.76 L214.55 149.35 L216.75 150.94 L218.94 152.54 L221.14 154.13 L223.33 155.73 L225.52 157.32 L227.72 158.91 L229.91 160.51 L232.11 162.10 L234.30 163.70 L236.49 165.29 L238.69 166.88 L240.88 168.48 L243.08 170.07 L245.27 171.67 L247.46 173.26 L249.66 174.85 L251.85 176.45 L254.05 178.04 L256.24 179.64 L258.43 181.23 L260.63 182.83 L262.82 184.42 L265.02 186.01 L267.21 187.61 L269.40 189.20 L271.60 190.80 L273.79 192.39 L275.98 193.99 L278.18 195.58 L280.37 197.17 L282.57 198.77 L284.76 200.36 L286.95 201.96 L289.15 203.55 L291.34 205.15 L293.54 206.74 L295.73 208.34 L297.92 209.93 L300.12 211.53 L302.31 213.12 L304.51 214.72 L306.70 216.31 L308.89 217.90 L311.09 219.50 L313.28 221.09 L315.48 222.69 L317.67 224.28 L319.86 225.88 L322.06 227.48 L324.25 229.07 L326.45 230.67 L328.64 232.26 L330.83 233.86 L333.03 235.45 L335.22 237.05 L337.42 238.64 L339.61 240.24 L341.80 241.84 L344.00 243.43 L346.19 245.03 L348.39 246.62 L350.58 248.22 L352.77 249.82 L354.97 251.41 L357.16 253.01 L359.36 254.61 L361.55 256.20 L363.74 257.80 L365.94 259.40 L368.13 260.99 L370.33 262.59 L372.52 264.19 L374.71 265.79 L376.91 267.38 L379.10 268.98 L381.30 270.58 L383.49 272.18 L385.68 273.78 L387.88 275.38 L390.07 276.97 L392.27 278.57 L394.46 280.17 L396.65 281.77 L398.85 283.37 L401.04 284.97 L403.24 286.57 L405.43 288.17 L407.62 289.77 L409.82 291.38 L412.01 292.98 L414.21 294.58 L416.40 296.18 L418.59 297.78 L420.79 299.39 L422.98 300.99 L425.18 302.59 L427.37 304.20 L429.56 305.80 L431.76 307.41 L433.95 309.01 L436.15 310.62 L438.34 312.23 L440.53 313.83 L442.73 315.44 L444.92 317.05 L447.12 318.66 L449.31 320.27 L451.50 321.88 L453.70 323.49 L455.89 325.10 L458.09 326.71 L460.28 328.32 L462.47 329.94 L464.67 331.55 L466.86 333.16 L469.06 334.78 L471.25 336.40 L473.44 338.02 L475.64 339.63 L477.83 341.25 L480.03 342.88 L482.22 344.50 L484.41 346.12 L486.61 347.75 L488.80 349.37 L491.00 351.00 L493.19 352.63 L495.38 354.26 L497.58 355.89 L499.77 357.52 L501.97 359.16 L504.16 360.79 L506.35 362.43 L508.55 364.07 L510.74 365.71 L512.94 367.36 L515.13 369.00 L517.32 370.65 L519.52 372.30 L521.71 373.95 L523.91 375.61 L526.10 377.27 L528.29 378.93 L530.49 380.59 L532.68 382.25 L534.88 383.92 L537.07 385.59 L539.26 387.27 L541.46 388.95 L543.65 390.63 L545.85 392.31 L548.04 394.00 L550.23 395.70 L552.43 397.39 L554.62 399.10 L556.82 400.80 L559.01 402.51 L561.20 404.23 L563.40 405.95 L565.59 407.67 L567.78 409.41 L569.98 411.14 L572.17 412.88 L574.37 414.63 L576.56 416.39 L578.75 418.15 L580.95 419.92 L583.14 421.70 L585.34 423.48 L587.53 425.27 L589.72 427.07 L591.92 428.88 L594.11 430.69 L596.31 432.52 L598.50 434.36 L600.69 436.20 L602.89 438.06 L605.08 439.92 L607.28 441.80 L609.47 443.69 L611.66 445.59 L613.86 447.51 L616.05 449.44 L618.25 451.38 L620.44 453.33 L622.63 455.31 L624.83 457.29 L627.02 459.29 L629.22 461.31 L631.41 463.35 L633.60 465.41 L635.80 467.48 L637.99 469.58 L640.19 471.69 L642.38 473.83 L644.57 475.99 L646.77 478.17 L648.96 480.37 L651.16 482.61 L653.35 484.86 L655.54 487.15 L657.74 489.46 L659.93 491.80 L662.13 494.18 L664.32 496.59 L666.51 499.03 L668.71 501.50 L670.90 504.01 L673.10 506.56 L675.29 509.15 L677.48 511.78 L679.68 514.45 L681.87 517.17 L684.07 519.93 L686.26 522.74 L688.45 525.60 L690.65 528.51 L692.84 531.48 L695.04 534.51 L697.23 537.59 L699.42 540.73 L701.62 543.94 L703.81 547.22 L706.01 550.56 L708.20 553.98 L710.39 557.47 L712.59 561.04 L714.78 564.69 L716.98 568.43 L719.17 572.25 L721.36 576.17 L723.56 580.18 L725.75 584.30 L727.95 588.51 L730.14 592.84 L732.33 597.27 L734.53 601.83 L736.72 606.50 L738.92 611.31 L741.11 616.24 L743.30 621.31 L745.50 626.53 L747.69 631.90 L749.89 637.42 L752.08 643.10 L754.27 648.95 L756.47 654.98 L758.66 661.19 L760.86 667.59 L763.05 674.19 L765.24 680.99 L767.44 688.01 L769.63 695.26 L771.83 702.73 L774.02 710.45 L776.21 718.42 L778.41 726.66 L780.60 735.17 L782.80 743.96 L784.99 753.05 L787.18 762.45 L789.38 772.17 L791.57 782.22 L793.77 792.63 L795.96 803.40 L798.15 814.54 L800.35 826.08 L802.54 838.03 L804.74 850.41 L806.93 863.23 L809.12 876.51 L811.32 890.28 L813.51 904.54 L815.71 919.33" stroke="#34af8a" stroke-width="4.40" fill="none" stroke-dasharray="16.28 7.04" stroke-linejoin="round"/>
<path d="M124.60 88.18 L126.79 89.72 L128.99 91.27 L131.18 92.81 L133.38 94.36 L135.57 95.90 L137.76 97.45 L139.96 98.99 L142.15 100.54 L144.35 102.09 L146.54 103.63 L148.73 105.18 L150.93 106.72 L153.12 108.27 L155.32 109.81 L157.51 111.36 L159.70 112.91 L161.90 114.45 L164.09 116.00 L166.29 117.54 L168.48 119.09 L170.67 120.63 L172.87 122.18 L175.06 123.73 L177.26 125.27 L179.45 126.82 L181.64 128.36 L183.84 129.91 L186.03 131.46 L188.23 133.00 L190.42 134.55 L192.61 136.09 L194.81 137.64 L197.00 139.19 L199.20 140.73 L201.39 142.28 L203.58 143.82 L205.78 145.37 L207.97 146.92 L210.17 148.46 L212.36 150.01 L214.55 151.55 L216.75 153.10 L218.94 154.65 L221.14 156.19 L223.33 157.74 L225.52 159.29 L227.72 160.83 L229.91 162.38 L232.11 163.93 L234.30 165.47 L236.49 167.02 L238.69 168.57 L240.88 170.11 L243.08 171.66 L245.27 173.21 L247.46 174.75 L249.66 176.30 L251.85 177.85 L254.05 179.39 L256.24 180.94 L258.43 182.49 L260.63 184.04 L262.82 185.58 L265.02 187.13 L267.21 188.68 L269.40 190.23 L271.60 191.77 L273.79 193.32 L275.98 194.87 L278.18 196.42 L280.37 197.97 L282.57 199.51 L284.76 201.06 L286.95 202.61 L289.15 204.16 L291.34 205.71 L293.54 207.26 L295.73 208.81 L297.92 210.35 L300.12 211.90 L302.31 213.45 L304.51 215.00 L306.70 216.55 L308.89 218.10 L311.09 219.65 L313.28 221.20 L315.48 222.75 L317.67 224.30 L319.86 225.86 L322.06 227.41 L324.25 228.96 L326.45 230.51 L328.64 232.06 L330.83 233.61 L333.03 235.17 L335.22 236.72 L337.42 238.27 L339.61 239.82 L341.80 241.38 L344.00 242.93 L346.19 244.49 L348.39 246.04 L350.58 247.60 L352.77 249.15 L354.97 250.71 L357.16 252.26 L359.36 253.82 L361.55 255.38 L363.74 256.94 L365.94 258.49 L368.13 260.05 L370.33 261.61 L372.52 263.17 L374.71 264.73 L376.91 266.29 L379.10 267.85 L381.30 269.42 L383.49 270.98 L385.68 272.54 L387.88 274.11 L390.07 275.67 L392.27 277.24 L394.46 278.81 L396.65 280.37 L398.85 281.94 L401.04 283.51 L403.24 285.08 L405.43 286.65 L407.62 288.22 L409.82 289.80 L412.01 291.37 L414.21 292.95 L416.40 294.52 L418.59 296.10 L420.79 297.68 L422.98 299.26 L425.18 300.85 L427.37 302.43 L429.56 304.01 L431.76 305.60 L433.95 307.19 L436.15 308.78 L438.34 310.37 L440.53 311.96 L442.73 313.56 L444.92 315.16 L447.12 316.75 L449.31 318.36 L451.50 319.96 L453.70 321.56 L455.89 323.17 L458.09 324.78 L460.28 326.39 L462.47 328.01 L464.67 329.63 L466.86 331.25 L469.06 332.87 L471.25 334.50 L473.44 336.12 L475.64 337.76 L477.83 339.39 L480.03 341.03 L482.22 342.67 L484.41 344.32 L486.61 345.96 L488.80 347.62 L491.00 349.27 L493.19 350.93 L495.38 352.59 L497.58 354.26 L499.77 355.93 L501.97 357.61 L504.16 359.29 L506.35 360.97 L508.55 362.66 L510.74 364.36 L512.94 366.06 L515.13 367.76 L517.32 369.47 L519.52 371.18 L521.71 372.90 L523.91 374.62 L526.10 376.35 L528.29 378.08 L530.49 379.82 L532.68 381.57 L534.88 383.32 L537.07 385.07 L539.26 386.83 L541.46 388.59 L543.65 390.36 L545.85 392.14 L548.04 393.92 L550.23 395.71 L552.43 397.50 L554.62 399.29 L556.82 401.09 L559.01 402.89 L561.20 404.70 L563.40 406.51 L565.59 408.33 L567.78 410.15 L569.98 411.97 L572.17 413.79 L574.37 415.62 L576.56 417.44 L578.75 419.27 L580.95 421.10 L583.14 422.92 L585.34 424.75 L587.53 426.58 L589.72 428.40 L591.92 430.22 L594.11 432.03 L596.31 433.85 L598.50 435.65 L600.69 437.45 L602.89 439.25 L605.08 441.03 L607.28 442.81 L609.47 444.58 L611.66 446.34 L613.86 448.09 L616.05 449.83 L618.25 451.56 L620.44 453.28 L622.63 454.98 L624.83 456.68 L627.02 458.36 L629.22 460.04 L631.41 461.71 L633.60 463.37 L635.80 465.02 L637.99 466.67 L640.19 468.31 L642.38 469.96 L644.57 471.61 L646.77 473.26 L648.96 474.92 L651.16 476.60 L653.35 478.29 L655.54 480.00 L657.74 481.75 L659.93 483.52 L662.13 485.33 L664.32 487.19 L666.51 489.10 L668.71 491.07 L670.90 493.11 L673.10 495.22 L675.29 497.41 L677.48 499.69 L679.68 502.07 L681.87 504.56 L684.07 507.17 L686.26 509.91 L688.45 512.79 L690.65 515.82 L692.84 519.00 L695.04 522.36 L697.23 525.90 L699.42 529.64 L701.62 533.58 L703.81 537.74 L706.01 542.14 L708.20 546.78 L710.39 551.67 L712.59 556.84 L714.78 562.30 L716.98 568.06 L719.17 574.14 L721.36 580.55 L723.56 587.31 L725.75 594.43 L727.95 601.94 L730.14 609.85 L732.33 618.18 L734.53 626.95 L736.72 636.18 L738.92 645.89 L741.11 656.10 L743.30 666.84 L745.50 678.12 L747.69 689.97 L749.89 702.41 L752.08 715.48 L754.27 729.19 L756.47 743.58 L758.66 758.67 L760.86 774.49 L763.05 791.08 L765.24 808.46 L767.44 826.68 L769.63 845.75 L771.83 865.73 L774.02 886.65 L776.21 908.55 L778.41 931.47" stroke="#34af8a" stroke-width="4.40" fill="none" stroke-dasharray="4.40 7.26" stroke-linejoin="round"/>
<path d="M124.60 85.94 L126.79 87.72 L128.99 89.51 L131.18 91.30 L133.38 93.08 L135.57 94.87 L137.76 96.66 L139.96 98.45 L142.15 100.23 L144.35 102.02 L146.54 103.81 L148.73 105.59 L150.93 107.38 L153.12 109.17 L155.32 110.95 L157.51 112.74 L159.70 114.53 L161.90 116.32 L164.09 118.10 L166.29 119.89 L168.48 121.68 L170.67 123.46 L172.87 125.25 L175.06 127.04 L177.26 128.82 L179.45 130.61 L181.64 132.40 L183.84 134.19 L186.03 135.97 L188.23 137.76 L190.42 139.55 L192.61 141.33 L194.81 143.12 L197.00 144.91 L199.20 146.70 L201.39 148.48 L203.58 150.27 L205.78 152.06 L207.97 153.84 L210.17 155.63 L212.36 157.42 L214.55 159.21 L216.75 160.99 L218.94 162.78 L221.14 164.57 L223.33 166.35 L225.52 168.14 L227.72 169.93 L229.91 171.72 L232.11 173.50 L234.30 175.29 L236.49 177.08 L238.69 178.87 L240.88 180.65 L243.08 182.44 L245.27 184.23 L247.46 186.02 L249.66 187.80 L251.85 189.59 L254.05 191.38 L256.24 193.17 L258.43 194.95 L260.63 196.74 L262.82 198.53 L265.02 200.32 L267.21 202.10 L269.40 203.89 L271.60 205.68 L273.79 207.47 L275.98 209.26 L278.18 211.04 L280.37 212.83 L282.57 214.62 L284.76 216.41 L286.95 218.20 L289.15 219.98 L291.34 221.77 L293.54 223.56 L295.73 225.35 L297.92 227.14 L300.12 228.93 L302.31 230.71 L304.51 232.50 L306.70 234.29 L308.89 236.08 L311.09 237.87 L313.28 239.66 L315.48 241.45 L317.67 243.24 L319.86 245.02 L322.06 246.81 L324.25 248.60 L326.45 250.39 L328.64 252.18 L330.83 253.97 L333.03 255.76 L335.22 257.55 L337.42 259.34 L339.61 261.13 L341.80 262.92 L344.00 264.71 L346.19 266.50 L348.39 268.29 L350.58 270.08 L352.77 271.87 L354.97 273.66 L357.16 275.46 L359.36 277.25 L361.55 279.04 L363.74 280.83 L365.94 282.62 L368.13 284.41 L370.33 286.21 L372.52 288.00 L374.71 289.79 L376.91 291.59 L379.10 293.38 L381.30 295.17 L383.49 296.97 L385.68 298.76 L387.88 300.55 L390.07 302.35 L392.27 304.14 L394.46 305.94 L396.65 307.74 L398.85 309.53 L401.04 311.33 L403.24 313.13 L405.43 314.92 L407.62 316.72 L409.82 318.52 L412.01 320.32 L414.21 322.12 L416.40 323.92 L418.59 325.72 L420.79 327.52 L422.98 329.32 L425.18 331.12 L427.37 332.92 L429.56 334.73 L431.76 336.53 L433.95 338.34 L436.15 340.14 L438.34 341.95 L440.53 343.75 L442.73 345.56 L444.92 347.37 L447.12 349.18 L449.31 350.99 L451.50 352.80 L453.70 354.61 L455.89 356.43 L458.09 358.24 L460.28 360.06 L462.47 361.87 L464.67 363.69 L466.86 365.51 L469.06 367.33 L471.25 369.15 L473.44 370.98 L475.64 372.80 L477.83 374.63 L480.03 376.46 L482.22 378.29 L484.41 380.12 L486.61 381.95 L488.80 383.79 L491.00 385.63 L493.19 387.47 L495.38 389.31 L497.58 391.15 L499.77 393.00 L501.97 394.85 L504.16 396.70 L506.35 398.55 L508.55 400.41 L510.74 402.27 L512.94 404.13 L515.13 406.00 L517.32 407.87 L519.52 409.74 L521.71 411.61 L523.91 413.49 L526.10 415.38 L528.29 417.26 L530.49 419.16 L532.68 421.05 L534.88 422.95 L537.07 424.86 L539.26 426.77 L541.46 428.68 L543.65 430.60 L545.85 432.53 L548.04 434.46 L550.23 436.40 L552.43 438.34 L554.62 440.29 L556.82 442.25 L559.01 444.21 L561.20 446.18 L563.40 448.16 L565.59 450.15 L567.78 452.14 L569.98 454.15 L572.17 456.16 L574.37 458.18 L576.56 460.21 L578.75 462.25 L580.95 464.30 L583.14 466.37 L585.34 468.44 L587.53 470.53 L589.72 472.63 L591.92 474.74 L594.11 476.86 L596.31 479.00 L598.50 481.15 L600.69 483.32 L602.89 485.51 L605.08 487.71 L607.28 489.92 L609.47 492.16 L611.66 494.41 L613.86 496.68 L616.05 498.98 L618.25 501.29 L620.44 503.63 L622.63 505.98 L624.83 508.36 L627.02 510.77 L629.22 513.20 L631.41 515.66 L633.60 518.15 L635.80 520.66 L637.99 523.20 L640.19 525.78 L642.38 528.39 L644.57 531.03 L646.77 533.71 L648.96 536.42 L651.16 539.17 L653.35 541.97 L655.54 544.80 L657.74 547.68 L659.93 550.60 L662.13 553.57 L664.32 556.58 L666.51 559.65 L668.71 562.77 L670.90 565.95 L673.10 569.18 L675.29 572.47 L677.48 575.82 L679.68 579.24 L681.87 582.73 L684.07 586.29 L686.26 589.92 L688.45 593.62 L690.65 597.40 L692.84 601.27 L695.04 605.22 L697.23 609.26 L699.42 613.40 L701.62 617.63 L703.81 621.96 L706.01 626.40 L708.20 630.95 L710.39 635.61 L712.59 640.38 L714.78 645.29 L716.98 650.32 L719.17 655.48 L721.36 660.78 L723.56 666.23 L725.75 671.83 L727.95 677.59 L730.14 683.50 L732.33 689.59 L734.53 695.86 L736.72 702.31 L738.92 708.96 L741.11 715.80 L743.30 722.86 L745.50 730.13 L747.69 737.62 L749.89 745.35 L752.08 753.33 L754.27 761.56 L756.47 770.06 L758.66 778.83 L760.86 787.90 L763.05 797.26 L765.24 806.93 L767.44 816.93 L769.63 827.27 L771.83 837.96 L774.02 849.02 L776.21 860.46 L778.41 872.30 L780.60 884.55 L782.80 897.23 L784.99 910.36" stroke="#37aabb" stroke-width="4.40" fill="none" stroke-dasharray="16.28 7.04" stroke-linejoin="round"/>
<path d="M124.60 98.29 L126.79 99.96 L128.99 101.62 L131.18 103.29 L133.38 104.95 L135.57 106.62 L137.76 108.29 L139.96 109.95 L142.15 111.62 L144.35 113.29 L146.54 114.95 L148.73 116.62 L150.93 118.29 L153.12 119.95 L155.32 121.62 L157.51 123.29 L159.70 124.95 L161.90 126.62 L164.09 128.29 L166.29 129.95 L168.48 131.62 L170.67 133.29 L172.87 134.95 L175.06 136.62 L177.26 138.29 L179.45 139.95 L181.64 141.62 L183.84 143.29 L186.03 144.95 L188.23 146.62 L190.42 148.29 L192.61 149.96 L194.81 151.62 L197.00 153.29 L199.20 154.96 L201.39 156.62 L203.58 158.29 L205.78 159.96 L207.97 161.63 L210.17 163.29 L212.36 164.96 L214.55 166.63 L216.75 168.29 L218.94 169.96 L221.14 171.63 L223.33 173.30 L225.52 174.97 L227.72 176.63 L229.91 178.30 L232.11 179.97 L234.30 181.64 L236.49 183.30 L238.69 184.97 L240.88 186.64 L243.08 188.31 L245.27 189.98 L247.46 191.65 L249.66 193.31 L251.85 194.98 L254.05 196.65 L256.24 198.32 L258.43 199.99 L260.63 201.66 L262.82 203.33 L265.02 205.00 L267.21 206.67 L269.40 208.34 L271.60 210.01 L273.79 211.68 L275.98 213.35 L278.18 215.02 L280.37 216.69 L282.57 218.36 L284.76 220.03 L286.95 221.70 L289.15 223.37 L291.34 225.04 L293.54 226.71 L295.73 228.38 L297.92 230.06 L300.12 231.73 L302.31 233.40 L304.51 235.07 L306.70 236.75 L308.89 238.42 L311.09 240.09 L313.28 241.77 L315.48 243.44 L317.67 245.11 L319.86 246.79 L322.06 248.46 L324.25 250.14 L326.45 251.82 L328.64 253.49 L330.83 255.17 L333.03 256.85 L335.22 258.52 L337.42 260.20 L339.61 261.88 L341.80 263.56 L344.00 265.24 L346.19 266.92 L348.39 268.60 L350.58 270.28 L352.77 271.96 L354.97 273.65 L357.16 275.33 L359.36 277.01 L361.55 278.70 L363.74 280.38 L365.94 282.07 L368.13 283.76 L370.33 285.44 L372.52 287.13 L374.71 288.82 L376.91 290.51 L379.10 292.20 L381.30 293.90 L383.49 295.59 L385.68 297.29 L387.88 298.98 L390.07 300.68 L392.27 302.38 L394.46 304.08 L396.65 305.78 L398.85 307.48 L401.04 309.19 L403.24 310.89 L405.43 312.60 L407.62 314.31 L409.82 316.02 L412.01 317.73 L414.21 319.45 L416.40 321.16 L418.59 322.88 L420.79 324.60 L422.98 326.32 L425.18 328.05 L427.37 329.78 L429.56 331.51 L431.76 333.24 L433.95 334.97 L436.15 336.71 L438.34 338.45 L440.53 340.19 L442.73 341.94 L444.92 343.69 L447.12 345.44 L449.31 347.20 L451.50 348.96 L453.70 350.73 L455.89 352.49 L458.09 354.27 L460.28 356.04 L462.47 357.82 L464.67 359.61 L466.86 361.40 L469.06 363.19 L471.25 364.99 L473.44 366.79 L475.64 368.60 L477.83 370.42 L480.03 372.24 L482.22 374.07 L484.41 375.90 L486.61 377.74 L488.80 379.59 L491.00 381.44 L493.19 383.30 L495.38 385.17 L497.58 387.04 L499.77 388.92 L501.97 390.81 L504.16 392.71 L506.35 394.62 L508.55 396.53 L510.74 398.46 L512.94 400.39 L515.13 402.33 L517.32 404.29 L519.52 406.25 L521.71 408.22 L523.91 410.20 L526.10 412.20 L528.29 414.20 L530.49 416.21 L532.68 418.24 L534.88 420.28 L537.07 422.33 L539.26 424.39 L541.46 426.46 L543.65 428.54 L545.85 430.64 L548.04 432.75 L550.23 434.87 L552.43 437.00 L554.62 439.15 L556.82 441.30 L559.01 443.47 L561.20 445.65 L563.40 447.85 L565.59 450.05 L567.78 452.27 L569.98 454.49 L572.17 456.73 L574.37 458.97 L576.56 461.23 L578.75 463.49 L580.95 465.76 L583.14 468.04 L585.34 470.32 L587.53 472.61 L589.72 474.90 L591.92 477.20 L594.11 479.50 L596.31 481.80 L598.50 484.10 L600.69 486.40 L602.89 488.70 L605.08 491.00 L607.28 493.29 L609.47 495.58 L611.66 497.86 L613.86 500.14 L616.05 502.41 L618.25 504.67 L620.44 506.93 L622.63 509.19 L624.83 511.44 L627.02 513.68 L629.22 515.93 L631.41 518.17 L633.60 520.42 L635.80 522.67 L637.99 524.94 L640.19 527.22 L642.38 529.52 L644.57 531.85 L646.77 534.20 L648.96 536.60 L651.16 539.04 L653.35 541.54 L655.54 544.10 L657.74 546.73 L659.93 549.44 L662.13 552.25 L664.32 555.15 L666.51 558.17 L668.71 561.32 L670.90 564.61 L673.10 568.04 L675.29 571.64 L677.48 575.42 L679.68 579.38 L681.87 583.56 L684.07 587.95 L686.26 592.57 L688.45 597.45 L690.65 602.59 L692.84 608.01 L695.04 613.73 L697.23 619.76 L699.42 626.12 L701.62 632.84 L703.81 639.92 L706.01 647.39 L708.20 655.27 L710.39 663.57 L712.59 672.32 L714.78 681.54 L716.98 691.25 L719.17 701.47 L721.36 712.23 L723.56 723.54 L725.75 735.44 L727.95 747.96 L730.14 761.11 L732.33 774.93 L734.53 789.44 L736.72 804.68 L738.92 820.67 L741.11 837.45 L743.30 855.06 L745.50 873.52 L747.69 892.87 L749.89 913.16" stroke="#37aabb" stroke-width="4.40" fill="none" stroke-dasharray="4.40 7.26" stroke-linejoin="round"/>
<path d="M124.60 163.72 L126.79 165.69 L128.99 167.66 L131.18 169.63 L133.38 171.60 L135.57 173.57 L137.76 175.55 L139.96 177.52 L142.15 179.49 L144.35 181.46 L146.54 183.43 L148.73 185.40 L150.93 187.37 L153.12 189.34 L155.32 191.31 L157.51 193.28 L159.70 195.25 L161.90 197.22 L164.09 199.19 L166.29 201.16 L168.48 203.13 L170.67 205.10 L172.87 207.07 L175.06 209.05 L177.26 211.02 L179.45 212.99 L181.64 214.96 L183.84 216.93 L186.03 218.90 L188.23 220.87 L190.42 222.84 L192.61 224.81 L194.81 226.78 L197.00 228.75 L199.20 230.72 L201.39 232.69 L203.58 234.67 L205.78 236.64 L207.97 238.61 L210.17 240.58 L212.36 242.55 L214.55 244.52 L216.75 246.49 L218.94 248.46 L221.14 250.43 L223.33 252.40 L225.52 254.37 L227.72 256.35 L229.91 258.32 L232.11 260.29 L234.30 262.26 L236.49 264.23 L238.69 266.20 L240.88 268.17 L243.08 270.14 L245.27 272.11 L247.46 274.09 L249.66 276.06 L251.85 278.03 L254.05 280.00 L256.24 281.97 L258.43 283.94 L260.63 285.91 L262.82 287.89 L265.02 289.86 L267.21 291.83 L269.40 293.80 L271.60 295.77 L273.79 297.75 L275.98 299.72 L278.18 301.69 L280.37 303.66 L282.57 305.63 L284.76 307.61 L286.95 309.58 L289.15 311.55 L291.34 313.52 L293.54 315.49 L295.73 317.47 L297.92 319.44 L300.12 321.41 L302.31 323.39 L304.51 325.36 L306.70 327.33 L308.89 329.30 L311.09 331.28 L313.28 333.25 L315.48 335.22 L317.67 337.20 L319.86 339.17 L322.06 341.15 L324.25 343.12 L326.45 345.09 L328.64 347.07 L330.83 349.04 L333.03 351.02 L335.22 352.99 L337.42 354.97 L339.61 356.94 L341.80 358.92 L344.00 360.89 L346.19 362.87 L348.39 364.85 L350.58 366.82 L352.77 368.80 L354.97 370.78 L357.16 372.75 L359.36 374.73 L361.55 376.71 L363.74 378.69 L365.94 380.66 L368.13 382.64 L370.33 384.62 L372.52 386.60 L374.71 388.58 L376.91 390.56 L379.10 392.54 L381.30 394.52 L383.49 396.50 L385.68 398.48 L387.88 400.47 L390.07 402.45 L392.27 404.43 L394.46 406.42 L396.65 408.40 L398.85 410.38 L401.04 412.37 L403.24 414.36 L405.43 416.34 L407.62 418.33 L409.82 420.32 L412.01 422.31 L414.21 424.30 L416.40 426.29 L418.59 428.28 L420.79 430.27 L422.98 432.26 L425.18 434.25 L427.37 436.25 L429.56 438.25 L431.76 440.24 L433.95 442.24 L436.15 444.24 L438.34 446.24 L440.53 448.24 L442.73 450.24 L444.92 452.25 L447.12 454.25 L449.31 456.26 L451.50 458.27 L453.70 460.28 L455.89 462.29 L458.09 464.30 L460.28 466.31 L462.47 468.33 L464.67 470.35 L466.86 472.37 L469.06 474.39 L471.25 476.42 L473.44 478.44 L475.64 480.47 L477.83 482.51 L480.03 484.54 L482.22 486.58 L484.41 488.62 L486.61 490.66 L488.80 492.70 L491.00 494.75 L493.19 496.80 L495.38 498.86 L497.58 500.92 L499.77 502.98 L501.97 505.05 L504.16 507.11 L506.35 509.19 L508.55 511.27 L510.74 513.35 L512.94 515.44 L515.13 517.53 L517.32 519.63 L519.52 521.73 L521.71 523.84 L523.91 525.95 L526.10 528.07 L528.29 530.19 L530.49 532.33 L532.68 534.47 L534.88 536.61 L537.07 538.76 L539.26 540.92 L541.46 543.09 L543.65 545.27 L545.85 547.45 L548.04 549.65 L550.23 551.85 L552.43 554.06 L554.62 556.28 L556.82 558.52 L559.01 560.76 L561.20 563.01 L563.40 565.28 L565.59 567.56 L567.78 569.85 L569.98 572.15 L572.17 574.47 L574.37 576.81 L576.56 579.15 L578.75 581.52 L580.95 583.89 L583.14 586.29 L585.34 588.70 L587.53 591.14 L589.72 593.59 L591.92 596.06 L594.11 598.55 L596.31 601.06 L598.50 603.60 L600.69 606.16 L602.89 608.74 L605.08 611.35 L607.28 613.98 L609.47 616.64 L611.66 619.33 L613.86 622.05 L616.05 624.80 L618.25 627.59 L620.44 630.40 L622.63 633.25 L624.83 636.14 L627.02 639.07 L629.22 642.03 L631.41 645.04 L633.60 648.09 L635.80 651.18 L637.99 654.32 L640.19 657.51 L642.38 660.74 L644.57 664.03 L646.77 667.38 L648.96 670.78 L651.16 674.24 L653.35 677.76 L655.54 681.34 L657.74 684.99 L659.93 688.71 L662.13 692.51 L664.32 696.38 L666.51 700.32 L668.71 704.35 L670.90 708.46 L673.10 712.66 L675.29 716.96 L677.48 721.34 L679.68 725.83 L681.87 730.42 L684.07 735.13 L686.26 739.94 L688.45 744.87 L690.65 749.92 L692.84 755.10 L695.04 760.41 L697.23 765.86 L699.42 771.45 L701.62 777.19 L703.81 783.09 L706.01 789.15 L708.20 795.37 L710.39 801.78 L712.59 808.36 L714.78 815.14 L716.98 822.11 L719.17 829.29 L721.36 836.69 L723.56 844.31 L725.75 852.16 L727.95 860.25 L730.14 868.60 L732.33 877.21 L734.53 886.09 L736.72 895.26 L738.92 904.72 L741.11 914.49" stroke="#8197f4" stroke-width="4.40" fill="none" stroke-dasharray="16.28 7.04" stroke-linejoin="round"/>
<path d="M124.60 122.77 L126.79 124.55 L128.99 126.33 L131.18 128.11 L133.38 129.89 L135.57 131.67 L137.76 133.45 L139.96 135.23 L142.15 137.02 L144.35 138.80 L146.54 140.58 L148.73 142.36 L150.93 144.14 L153.12 145.92 L155.32 147.70 L157.51 149.48 L159.70 151.27 L161.90 153.05 L164.09 154.83 L166.29 156.61 L168.48 158.39 L170.67 160.17 L172.87 161.95 L175.06 163.74 L177.26 165.52 L179.45 167.30 L181.64 169.08 L183.84 170.86 L186.03 172.64 L188.23 174.43 L190.42 176.21 L192.61 177.99 L194.81 179.77 L197.00 181.55 L199.20 183.34 L201.39 185.12 L203.58 186.90 L205.78 188.68 L207.97 190.47 L210.17 192.25 L212.36 194.03 L214.55 195.81 L216.75 197.60 L218.94 199.38 L221.14 201.16 L223.33 202.94 L225.52 204.73 L227.72 206.51 L229.91 208.29 L232.11 210.08 L234.30 211.86 L236.49 213.64 L238.69 215.43 L240.88 217.21 L243.08 219.00 L245.27 220.78 L247.46 222.56 L249.66 224.35 L251.85 226.13 L254.05 227.92 L256.24 229.70 L258.43 231.49 L260.63 233.27 L262.82 235.06 L265.02 236.84 L267.21 238.63 L269.40 240.41 L271.60 242.20 L273.79 243.99 L275.98 245.77 L278.18 247.56 L280.37 249.35 L282.57 251.14 L284.76 252.92 L286.95 254.71 L289.15 256.50 L291.34 258.29 L293.54 260.08 L295.73 261.87 L297.92 263.66 L300.12 265.45 L302.31 267.24 L304.51 269.03 L306.70 270.82 L308.89 272.61 L311.09 274.40 L313.28 276.20 L315.48 277.99 L317.67 279.78 L319.86 281.58 L322.06 283.37 L324.25 285.17 L326.45 286.96 L328.64 288.76 L330.83 290.56 L333.03 292.36 L335.22 294.15 L337.42 295.95 L339.61 297.75 L341.80 299.55 L344.00 301.36 L346.19 303.16 L348.39 304.96 L350.58 306.77 L352.77 308.57 L354.97 310.38 L357.16 312.19 L359.36 314.00 L361.55 315.81 L363.74 317.62 L365.94 319.43 L368.13 321.24 L370.33 323.06 L372.52 324.88 L374.71 326.69 L376.91 328.51 L379.10 330.33 L381.30 332.16 L383.49 333.98 L385.68 335.81 L387.88 337.64 L390.07 339.47 L392.27 341.30 L394.46 343.13 L396.65 344.97 L398.85 346.81 L401.04 348.65 L403.24 350.49 L405.43 352.34 L407.62 354.19 L409.82 356.04 L412.01 357.90 L414.21 359.75 L416.40 361.62 L418.59 363.48 L420.79 365.35 L422.98 367.22 L425.18 369.09 L427.37 370.97 L429.56 372.86 L431.76 374.74 L433.95 376.64 L436.15 378.53 L438.34 380.43 L440.53 382.34 L442.73 384.25 L444.92 386.17 L447.12 388.09 L449.31 390.02 L451.50 391.95 L453.70 393.89 L455.89 395.84 L458.09 397.80 L460.28 399.76 L462.47 401.73 L464.67 403.70 L466.86 405.69 L469.06 407.68 L471.25 409.68 L473.44 411.69 L475.64 413.71 L477.83 415.74 L480.03 417.78 L482.22 419.84 L484.41 421.90 L486.61 423.97 L488.80 426.06 L491.00 428.16 L493.19 430.27 L495.38 432.39 L497.58 434.53 L499.77 436.69 L501.97 438.86 L504.16 441.04 L506.35 443.25 L508.55 445.47 L510.74 447.71 L512.94 449.96 L515.13 452.24 L517.32 454.54 L519.52 456.85 L521.71 459.19 L523.91 461.56 L526.10 463.95 L528.29 466.36 L530.49 468.80 L532.68 471.26 L534.88 473.76 L537.07 476.28 L539.26 478.84 L541.46 481.42 L543.65 484.04 L545.85 486.70 L548.04 489.39 L550.23 492.11 L552.43 494.88 L554.62 497.69 L556.82 500.54 L559.01 503.43 L561.20 506.37 L563.40 509.35 L565.59 512.39 L567.78 515.48 L569.98 518.62 L572.17 521.82 L574.37 525.08 L576.56 528.40 L578.75 531.78 L580.95 535.23 L583.14 538.74 L585.34 542.33 L587.53 545.99 L589.72 549.73 L591.92 553.55 L594.11 557.46 L596.31 561.45 L598.50 565.53 L600.69 569.71 L602.89 573.99 L605.08 578.36 L607.28 582.85 L609.47 587.45 L611.66 592.16 L613.86 597.00 L616.05 601.96 L618.25 607.05 L620.44 612.28 L622.63 617.66 L624.83 623.17 L627.02 628.85 L629.22 634.68 L631.41 640.68 L633.60 646.86 L635.80 653.21 L637.99 659.76 L640.19 666.50 L642.38 673.45 L644.57 680.60 L646.77 687.99 L648.96 695.60 L651.16 703.45 L653.35 711.55 L655.54 719.91 L657.74 728.55 L659.93 737.46 L662.13 746.67 L664.32 756.19 L666.51 766.02 L668.71 776.19 L670.90 786.71 L673.10 797.58 L675.29 808.83 L677.48 820.47 L679.68 832.51 L681.87 844.98 L684.07 857.89 L686.26 871.25 L688.45 885.10 L690.65 899.44 L692.84 914.30" stroke="#8197f4" stroke-width="4.40" fill="none" stroke-dasharray="4.40 7.26" stroke-linejoin="round"/>
<path d="M124.60 195.05 L126.79 196.93 L128.99 198.81 L131.18 200.69 L133.38 202.57 L135.57 204.46 L137.76 206.34 L139.96 208.22 L142.15 210.10 L144.35 211.98 L146.54 213.86 L148.73 215.74 L150.93 217.62 L153.12 219.50 L155.32 221.38 L157.51 223.27 L159.70 225.15 L161.90 227.03 L164.09 228.91 L166.29 230.79 L168.48 232.67 L170.67 234.55 L172.87 236.44 L175.06 238.32 L177.26 240.20 L179.45 242.08 L181.64 243.96 L183.84 245.85 L186.03 247.73 L188.23 249.61 L190.42 251.49 L192.61 253.37 L194.81 255.26 L197.00 257.14 L199.20 259.02 L201.39 260.90 L203.58 262.79 L205.78 264.67 L207.97 266.55 L210.17 268.44 L212.36 270.32 L214.55 272.20 L216.75 274.09 L218.94 275.97 L221.14 277.85 L223.33 279.74 L225.52 281.62 L227.72 283.50 L229.91 285.39 L232.11 287.27 L234.30 289.16 L236.49 291.04 L238.69 292.93 L240.88 294.81 L243.08 296.70 L245.27 298.59 L247.46 300.47 L249.66 302.36 L251.85 304.24 L254.05 306.13 L256.24 308.02 L258.43 309.91 L260.63 311.79 L262.82 313.68 L265.02 315.57 L267.21 317.46 L269.40 319.35 L271.60 321.24 L273.79 323.13 L275.98 325.02 L278.18 326.91 L280.37 328.80 L282.57 330.69 L284.76 332.58 L286.95 334.47 L289.15 336.37 L291.34 338.26 L293.54 340.15 L295.73 342.05 L297.92 343.94 L300.12 345.84 L302.31 347.73 L304.51 349.63 L306.70 351.53 L308.89 353.43 L311.09 355.33 L313.28 357.23 L315.48 359.13 L317.67 361.03 L319.86 362.93 L322.06 364.83 L324.25 366.74 L326.45 368.64 L328.64 370.55 L330.83 372.46 L333.03 374.37 L335.22 376.28 L337.42 378.19 L339.61 380.10 L341.80 382.01 L344.00 383.93 L346.19 385.85 L348.39 387.76 L350.58 389.68 L352.77 391.60 L354.97 393.53 L357.16 395.45 L359.36 397.38 L361.55 399.31 L363.74 401.24 L365.94 403.17 L368.13 405.10 L370.33 407.04 L372.52 408.98 L374.71 410.92 L376.91 412.86 L379.10 414.81 L381.30 416.76 L383.49 418.71 L385.68 420.67 L387.88 422.63 L390.07 424.59 L392.27 426.55 L394.46 428.52 L396.65 430.49 L398.85 432.47 L401.04 434.45 L403.24 436.43 L405.43 438.42 L407.62 440.42 L409.82 442.41 L412.01 444.41 L414.21 446.42 L416.40 448.43 L418.59 450.45 L420.79 452.48 L422.98 454.51 L425.18 456.54 L427.37 458.58 L429.56 460.63 L431.76 462.69 L433.95 464.75 L436.15 466.82 L438.34 468.90 L440.53 470.99 L442.73 473.08 L444.92 475.19 L447.12 477.30 L449.31 479.42 L451.50 481.55 L453.70 483.70 L455.89 485.85 L458.09 488.02 L460.28 490.19 L462.47 492.38 L464.67 494.58 L466.86 496.80 L469.06 499.03 L471.25 501.27 L473.44 503.53 L475.64 505.80 L477.83 508.10 L480.03 510.40 L482.22 512.73 L484.41 515.07 L486.61 517.43 L488.80 519.81 L491.00 522.22 L493.19 524.64 L495.38 527.09 L497.58 529.56 L499.77 532.05 L501.97 534.57 L504.16 537.12 L506.35 539.69 L508.55 542.30 L510.74 544.93 L512.94 547.59 L515.13 550.29 L517.32 553.01 L519.52 555.78 L521.71 558.58 L523.91 561.42 L526.10 564.29 L528.29 567.21 L530.49 570.17 L532.68 573.18 L534.88 576.23 L537.07 579.33 L539.26 582.49 L541.46 585.69 L543.65 588.95 L545.85 592.26 L548.04 595.64 L550.23 599.07 L552.43 602.57 L554.62 606.14 L556.82 609.78 L559.01 613.48 L561.20 617.27 L563.40 621.13 L565.59 625.08 L567.78 629.11 L569.98 633.22 L572.17 637.43 L574.37 641.74 L576.56 646.15 L578.75 650.66 L580.95 655.28 L583.14 660.01 L585.34 664.86 L587.53 669.83 L589.72 674.93 L591.92 680.16 L594.11 685.53 L596.31 691.04 L598.50 696.71 L600.69 702.53 L602.89 708.51 L605.08 714.66 L607.28 720.99 L609.47 727.50 L611.66 734.20 L613.86 741.10 L616.05 748.21 L618.25 755.53 L620.44 763.08 L622.63 770.86 L624.83 778.88 L627.02 787.16 L629.22 795.70 L631.41 804.51 L633.60 813.61 L635.80 823.01 L637.99 832.72 L640.19 842.75 L642.38 853.12 L644.57 863.84 L646.77 874.92 L648.96 886.38 L651.16 898.24 L653.35 910.50" stroke="#f45deb" stroke-width="4.40" fill="none" stroke-dasharray="4.40 7.26" stroke-linejoin="round"/>
<path d="M124.60 198.08 L126.79 198.47 L128.99 198.85 L131.18 199.23 L133.38 199.62 L135.57 200.00 L137.76 200.39 L139.96 200.77 L142.15 201.15 L144.35 201.54 L146.54 201.92 L148.73 202.31 L150.93 202.69 L153.12 203.07 L155.32 203.46 L157.51 203.84 L159.70 204.23 L161.90 204.61 L164.09 204.99 L166.29 205.38 L168.48 205.76 L170.67 206.15 L172.87 206.53 L175.06 206.91 L177.26 207.30 L179.45 207.68 L181.64 208.07 L183.84 208.45 L186.03 208.83 L188.23 209.22 L190.42 209.60 L192.61 209.99 L194.81 210.37 L197.00 210.75 L199.20 211.14 L201.39 211.52 L203.58 211.91 L205.78 212.29 L207.97 212.68 L210.17 213.06 L212.36 213.44 L214.55 213.83 L216.75 214.21 L218.94 214.60 L221.14 214.98 L223.33 215.36 L225.52 215.75 L227.72 216.13 L229.91 216.52 L232.11 216.90 L234.30 217.28 L236.49 217.67 L238.69 218.05 L240.88 218.44 L243.08 218.82 L245.27 219.21 L247.46 219.59 L249.66 219.97 L251.85 220.36 L254.05 220.74 L256.24 221.13 L258.43 221.51 L260.63 221.90 L262.82 222.28 L265.02 222.66 L267.21 223.05 L269.40 223.43 L271.60 223.82 L273.79 224.20 L275.98 224.59 L278.18 224.97 L280.37 225.36 L282.57 225.74 L284.76 226.12 L286.95 226.51 L289.15 226.89 L291.34 227.28 L293.54 227.66 L295.73 228.05 L297.92 228.43 L300.12 228.82 L302.31 229.20 L304.51 229.59 L306.70 229.97 L308.89 230.36 L311.09 230.74 L313.28 231.13 L315.48 231.51 L317.67 231.90 L319.86 232.28 L322.06 232.67 L324.25 233.05 L326.45 233.44 L328.64 233.82 L330.83 234.21 L333.03 234.59 L335.22 234.98 L337.42 235.36 L339.61 235.75 L341.80 236.13 L344.00 236.52 L346.19 236.91 L348.39 237.29 L350.58 237.68 L352.77 238.06 L354.97 238.45 L357.16 238.84 L359.36 239.22 L361.55 239.61 L363.74 240.00 L365.94 240.38 L368.13 240.77 L370.33 241.16 L372.52 241.54 L374.71 241.93 L376.91 242.32 L379.10 242.70 L381.30 243.09 L383.49 243.48 L385.68 243.87 L387.88 244.25 L390.07 244.64 L392.27 245.03 L394.46 245.42 L396.65 245.81 L398.85 246.20 L401.04 246.59 L403.24 246.97 L405.43 247.36 L407.62 247.75 L409.82 248.14 L412.01 248.53 L414.21 248.92 L416.40 249.31 L418.59 249.71 L420.79 250.10 L422.98 250.49 L425.18 250.88 L427.37 251.27 L429.56 251.66 L431.76 252.06 L433.95 252.45 L436.15 252.84 L438.34 253.24 L440.53 253.63 L442.73 254.03 L444.92 254.42 L447.12 254.82 L449.31 255.21 L451.50 255.61 L453.70 256.01 L455.89 256.41 L458.09 256.80 L460.28 257.20 L462.47 257.60 L464.67 258.00 L466.86 258.40 L469.06 258.81 L471.25 259.21 L473.44 259.61 L475.64 260.01 L477.83 260.42 L480.03 260.82 L482.22 261.23 L484.41 261.64 L486.61 262.05 L488.80 262.46 L491.00 262.87 L493.19 263.28 L495.38 263.69 L497.58 264.10 L499.77 264.52 L501.97 264.93 L504.16 265.35 L506.35 265.77 L508.55 266.19 L510.74 266.61 L512.94 267.04 L515.13 267.46 L517.32 267.89 L519.52 268.32 L521.71 268.75 L523.91 269.18 L526.10 269.61 L528.29 270.05 L530.49 270.49 L532.68 270.93 L534.88 271.37 L537.07 271.82 L539.26 272.27 L541.46 272.72 L543.65 273.17 L545.85 273.63 L548.04 274.09 L550.23 274.55 L552.43 275.01 L554.62 275.48 L556.82 275.96 L559.01 276.43 L561.20 276.91 L563.40 277.40 L565.59 277.88 L567.78 278.38 L569.98 278.87 L572.17 279.37 L574.37 279.88 L576.56 280.39 L578.75 280.91 L580.95 281.43 L583.14 281.96 L585.34 282.49 L587.53 283.03 L589.72 283.58 L591.92 284.13 L594.11 284.69 L596.31 285.26 L598.50 285.83 L600.69 286.42 L602.89 287.01 L605.08 287.61 L607.28 288.21 L609.47 288.83 L611.66 289.46 L613.86 290.10 L616.05 290.74 L618.25 291.40 L620.44 292.07 L622.63 292.75 L624.83 293.45 L627.02 294.15 L629.22 294.87 L631.41 295.61 L633.60 296.35 L635.80 297.12 L637.99 297.90 L640.19 298.69 L642.38 299.50 L644.57 300.33 L646.77 301.18 L648.96 302.05 L651.16 302.94 L653.35 303.84 L655.54 304.77 L657.74 305.72 L659.93 306.70 L662.13 307.70 L664.32 308.72 L666.51 309.78 L668.71 310.85 L670.90 311.96 L673.10 313.10 L675.29 314.27 L677.48 315.47 L679.68 316.70 L681.87 317.97 L684.07 319.28 L686.26 320.62 L688.45 322.01 L690.65 323.43 L692.84 324.90 L695.04 326.41 L697.23 327.97 L699.42 329.58 L701.62 331.24 L703.81 332.95 L706.01 334.71 L708.20 336.53 L710.39 338.42 L712.59 340.36 L714.78 342.37 L716.98 344.44 L719.17 346.58 L721.36 348.80 L723.56 351.09 L725.75 353.46 L727.95 355.92 L730.14 358.45 L732.33 361.08 L734.53 363.80 L736.72 366.62 L738.92 369.53 L741.11 372.55 L743.30 375.68 L745.50 378.92 L747.69 382.28 L749.89 385.76 L752.08 389.37 L754.27 393.12 L756.47 397.00 L758.66 401.02 L760.86 405.20 L763.05 409.53 L765.24 414.03 L767.44 418.69 L769.63 423.53 L771.83 428.56 L774.02 433.77 L776.21 439.19 L778.41 444.81 L780.60 450.65 L782.80 456.71 L784.99 463.01 L787.18 469.55 L789.38 476.34 L791.57 483.40 L793.77 490.74 L795.96 498.36 L798.15 506.28 L800.35 514.51 L802.54 523.06 L804.74 531.95 L806.93 541.19 L809.12 550.80 L811.32 560.78 L813.51 571.16 L815.71 581.96 L817.90 593.18 L820.09 604.85 L822.29 616.98 L824.48 629.60 L826.68 642.73 L828.87 656.38 L831.06 670.57 L833.26 685.34 L835.45 700.70 L837.65 716.67 L839.84 733.29 L842.03 750.58 L844.23 768.56 L846.42 787.27 L848.62 806.73 L850.81 826.99 L853.00 848.06 L855.20 869.98 L857.39 892.79 L859.58 916.53" stroke="#000" stroke-width="4.40" fill="none" stroke-linecap="square" stroke-linejoin="round"/>
</g>
<path d="M124.60 703.00 v17.50 M249.66 703.00 v17.50 M374.71 703.00 v17.50 M499.77 703.00 v17.50 M624.83 703.00 v17.50 M749.89 703.00 v17.50 M874.94 703.00 v17.50 M1000.00 703.00 v17.50 M124.60 14.80 h-17.50 M124.60 152.44 h-17.50 M124.60 290.08 h-17.50 M124.60 427.72 h-17.50 M124.60 565.36 h-17.50 M124.60 703.00 h-17.50" stroke="#000" stroke-width="1.35" fill="none"/>
<rect x="124.60" y="14.80" width="875.40" height="688.20" fill="none" stroke="#000" stroke-width="3"/>
<rect x="490.70" y="27.60" width="496.20" height="125.60" rx="3.6" ry="3.6" fill="#fff" fill-opacity="0.8" stroke="#ccc" stroke-opacity="0.8" stroke-width="1.4"/>
<path d="M501.20 49.0 H553.30" stroke="#000" stroke-width="4.40" stroke-linecap="square" fill="none"/>
<path d="M501.20 88.3 H553.30" stroke="#000" stroke-width="4.40" stroke-dasharray="16.28 7.04" fill="none"/>
<path d="M501.20 127.7 H553.30" stroke="#000" stroke-width="4.40" stroke-dasharray="4.40 7.26" fill="none"/>
<rect x="137.70" y="529.20" width="356.70" height="160.70" rx="3.6" ry="3.6" fill="#fff" fill-opacity="0.8" stroke="#ccc" stroke-opacity="0.8" stroke-width="1.4"/>
<path d="M148.10 550.20 H200.10" stroke="#f77189" stroke-width="4.40" stroke-linecap="square" fill="none"/>
<path d="M148.10 588.60 H200.10" stroke="#c69432" stroke-width="4.40" stroke-linecap="square" fill="none"/>
<path d="M148.10 626.90 H200.10" stroke="#82a931" stroke-width="4.40" stroke-linecap="square" fill="none"/>
<path d="M148.10 665.10 H200.10" stroke="#34af8a" stroke-width="4.40" stroke-linecap="square" fill="none"/>
<path d="M342.50 550.20 H394.50" stroke="#37aabb" stroke-width="4.40" stroke-linecap="square" fill="none"/>
<path d="M342.50 588.60 H394.50" stroke="#8197f4" stroke-width="4.40" stroke-linecap="square" fill="none"/>
<path d="M342.50 626.90 H394.50" stroke="#f45deb" stroke-width="4.40" stroke-linecap="square" fill="none"/>
<g>
<text transform="translate(81.81 27.20) scale(1.0682 0.9428)" style="font-weight:normal;font-size:34.60px;stroke:#000;stroke-width:1.25px;stroke-linejoin:round;">0</text>
<text transform="translate(79.84 170.14) scale(0.9915 0.9636)" style="font-weight:normal;font-size:34.60px;stroke:#000;stroke-width:1.25px;stroke-linejoin:round;">1</text>
<text transform="translate(49.08 173.84) scale(1.4921 1.1098)" style="font-weight:normal;font-size:34.60px;">−</text>
<text transform="translate(80.14 307.78) scale(1.0036 0.9636)" style="font-weight:normal;font-size:34.60px;stroke:#000;stroke-width:1.25px;stroke-linejoin:round;">2</text>
<text transform="translate(49.08 311.48) scale(1.4921 1.1098)" style="font-weight:normal;font-size:34.60px;">−</text>
<text transform="translate(79.34 444.92) scale(1.0604 0.9428)" style="font-weight:normal;font-size:34.60px;stroke:#000;stroke-width:1.25px;stroke-linejoin:round;">3</text>
<text transform="translate(49.08 449.12) scale(1.4921 1.1098)" style="font-weight:normal;font-size:34.60px;">−</text>
<text transform="translate(80.08 583.06) scale(1.0078 0.9636)" style="font-weight:normal;font-size:34.60px;stroke:#000;stroke-width:1.25px;stroke-linejoin:round;">4</text>
<text transform="translate(49.08 586.76) scale(1.4921 1.1098)" style="font-weight:normal;font-size:34.60px;">−</text>
<text transform="translate(80.19 720.18) scale(1.0099 0.9636)" style="font-weight:normal;font-size:34.60px;stroke:#000;stroke-width:1.25px;stroke-linejoin:round;">5</text>
<text transform="translate(49.08 724.40) scale(1.4921 1.1098)" style="font-weight:normal;font-size:34.60px;">−</text>
<text transform="translate(113.64 750.81) scale(0.9927 0.9388)" style="font-weight:normal;font-size:34.60px;stroke:#000;stroke-width:1.25px;stroke-linejoin:round;">6</text>
<text transform="translate(237.47 751.29) scale(1.0604 0.9811)" style="font-weight:normal;font-size:34.60px;stroke:#000;stroke-width:1.25px;stroke-linejoin:round;">7</text>
<text transform="translate(364.23 750.81) scale(1.0254 0.9388)" style="font-weight:normal;font-size:34.60px;stroke:#000;stroke-width:1.25px;stroke-linejoin:round;">8</text>
<text transform="translate(489.54 750.81) scale(1.0132 0.9388)" style="font-weight:normal;font-size:34.60px;stroke:#000;stroke-width:1.25px;stroke-linejoin:round;">9</text>
<text transform="translate(603.07 750.81) scale(1.0698 0.9388)" style="font-weight:normal;font-size:34.60px;stroke:#000;stroke-width:1.25px;stroke-linejoin:round;">10</text>
<text transform="translate(727.37 751.30) scale(1.1178 0.9595)" style="font-weight:normal;font-size:34.60px;stroke:#000;stroke-width:1.25px;stroke-linejoin:round;">11</text>
<text transform="translate(852.37 751.30) scale(1.1199 0.9595)" style="font-weight:normal;font-size:34.60px;stroke:#000;stroke-width:1.25px;stroke-linejoin:round;">12</text>
<text transform="translate(978.05 750.81) scale(1.0823 0.9388)" style="font-weight:normal;font-size:34.60px;stroke:#000;stroke-width:1.25px;stroke-linejoin:round;">13</text>
<text transform="translate(442.90 786.55) scale(1.0992 1.0000)" style="font-weight:normal;font-size:34.60px;stroke:#000;stroke-width:0.90px;stroke-linejoin:round;">log</text>
<text transform="translate(490.95 792.35) scale(1.1691 1.0032)" style="font-weight:normal;font-size:23.00px;stroke:#000;stroke-width:0.50px;stroke-linejoin:round;">10</text>
<text transform="translate(522.03 787.27) scale(0.8615 1.0586)" style="font-weight:normal;font-size:34.60px;stroke:#000;stroke-width:0.60px;stroke-linejoin:round;">(</text>
<text transform="translate(535.54 786.87) scale(1.1139 1.0337)" style="font-weight:normal;font-size:34.60px;stroke:#000;stroke-width:0.25px;stroke-linejoin:round;">M</text>
<text transform="translate(570.02 792.24) scale(0.7945 0.6538)" style="font-weight:normal;font-size:24.00px;font-family:'DejaVu Sans',sans-serif;stroke:#000;stroke-width:0.50px;stroke-linejoin:round;">∗</text>
<text transform="translate(587.87 794.58) scale(1.5177 1.4252)" style="font-weight:normal;font-size:34.60px;stroke:#000;stroke-width:0.35px;stroke-linejoin:round;">/</text>
<text transform="translate(606.53 786.87) scale(1.1373 1.0337)" style="font-weight:normal;font-size:34.60px;stroke:#000;stroke-width:0.25px;stroke-linejoin:round;">M</text>
<text transform="translate(641.52 794.52) scale(1.1472 1.1288)" style="font-weight:normal;font-size:24.00px;font-family:'DejaVu Sans',sans-serif;stroke:#000;stroke-width:0.40px;stroke-linejoin:round;">⊙</text>
<text transform="translate(666.14 787.27) scale(0.9703 1.0586)" style="font-weight:normal;font-size:34.60px;stroke:#000;stroke-width:0.60px;stroke-linejoin:round;">)</text>
<text transform="translate(572.10 57.60) scale(1.1641 1.0000)" style="font-weight:normal;font-size:25.60px;stroke:#000;stroke-width:0.79px;stroke-linejoin:round;">1:</text>
<text transform="translate(608.12 57.60) scale(1.2655 1.0000)" style="font-weight:normal;font-size:25.60px;stroke:#000;stroke-width:0.79px;stroke-linejoin:round;">Panter</text>
<text transform="translate(701.61 57.60) scale(1.3053 1.0000)" style="font-weight:normal;font-size:25.60px;stroke:#000;stroke-width:0.79px;stroke-linejoin:round;">et</text>
<text transform="translate(736.69 57.60) scale(1.2085 1.0000)" style="font-weight:normal;font-size:25.60px;stroke:#000;stroke-width:0.79px;stroke-linejoin:round;">al.</text>
<text transform="translate(782.19 58.11) scale(0.9790 1.1065)" style="font-weight:normal;font-size:25.60px;stroke:#000;stroke-width:0.55px;stroke-linejoin:round;">(</text>
<text transform="translate(791.71 57.61) scale(1.1289 0.9945)" style="font-weight:normal;font-size:25.60px;stroke:#000;stroke-width:0.79px;stroke-linejoin:round;">2004</text>
<text transform="translate(851.52 58.11) scale(0.9231 1.1065)" style="font-weight:normal;font-size:25.60px;stroke:#000;stroke-width:0.55px;stroke-linejoin:round;">)</text>
<text transform="translate(871.08 57.60) scale(1.1688 1.0000)" style="font-weight:normal;font-size:25.60px;stroke:#000;stroke-width:0.79px;stroke-linejoin:round;">Single</text>
<text transform="translate(573.43 96.90) scale(1.0913 1.0000)" style="font-weight:normal;font-size:25.60px;stroke:#000;stroke-width:0.79px;stroke-linejoin:round;">2:</text>
<text transform="translate(608.84 96.90) scale(1.1861 1.0000)" style="font-weight:normal;font-size:25.60px;stroke:#000;stroke-width:0.79px;stroke-linejoin:round;">Furlong</text>
<text transform="translate(714.93 96.90) scale(1.2833 1.0000)" style="font-weight:normal;font-size:25.60px;stroke:#000;stroke-width:0.79px;stroke-linejoin:round;">et</text>
<text transform="translate(749.90 96.90) scale(1.1999 1.0000)" style="font-weight:normal;font-size:25.60px;stroke:#000;stroke-width:0.79px;stroke-linejoin:round;">al.</text>
<text transform="translate(795.19 97.41) scale(0.9790 1.1065)" style="font-weight:normal;font-size:25.60px;stroke:#000;stroke-width:0.55px;stroke-linejoin:round;">(</text>
<text transform="translate(804.71 96.91) scale(1.1224 0.9945)" style="font-weight:normal;font-size:25.60px;stroke:#000;stroke-width:0.79px;stroke-linejoin:round;">2015</text>
<text transform="translate(863.49 97.41) scale(0.9790 1.1065)" style="font-weight:normal;font-size:25.60px;stroke:#000;stroke-width:0.55px;stroke-linejoin:round;">)</text>
<text transform="translate(883.46 96.90) scale(1.1798 1.0000)" style="font-weight:normal;font-size:25.60px;stroke:#000;stroke-width:0.79px;stroke-linejoin:round;">Single</text>
<text transform="translate(573.32 136.30) scale(1.0975 1.0000)" style="font-weight:normal;font-size:25.60px;stroke:#000;stroke-width:0.79px;stroke-linejoin:round;">3:</text>
<text transform="translate(608.84 136.30) scale(1.1861 1.0000)" style="font-weight:normal;font-size:25.60px;stroke:#000;stroke-width:0.79px;stroke-linejoin:round;">Furlong</text>
<text transform="translate(714.93 136.30) scale(1.2833 1.0000)" style="font-weight:normal;font-size:25.60px;stroke:#000;stroke-width:0.79px;stroke-linejoin:round;">et</text>
<text transform="translate(749.90 136.30) scale(1.1999 1.0000)" style="font-weight:normal;font-size:25.60px;stroke:#000;stroke-width:0.79px;stroke-linejoin:round;">al.</text>
<text transform="translate(795.19 136.81) scale(0.9790 1.1065)" style="font-weight:normal;font-size:25.60px;stroke:#000;stroke-width:0.55px;stroke-linejoin:round;">(</text>
<text transform="translate(804.71 136.31) scale(1.1224 0.9945)" style="font-weight:normal;font-size:25.60px;stroke:#000;stroke-width:0.79px;stroke-linejoin:round;">2015</text>
<text transform="translate(863.49 136.81) scale(0.9790 1.1065)" style="font-weight:normal;font-size:25.60px;stroke:#000;stroke-width:0.55px;stroke-linejoin:round;">)</text>
<text transform="translate(884.64 136.30) scale(1.2025 1.0000)" style="font-weight:normal;font-size:25.60px;stroke:#000;stroke-width:0.79px;stroke-linejoin:round;">Double</text>
<text transform="translate(221.81 558.91) scale(1.1674 0.9839)" style="font-style:italic;font-weight:normal;font-size:25.60px;stroke:#000;stroke-width:0.79px;stroke-linejoin:round;">z</text>
<text transform="translate(242.49 562.68) scale(1.6750 1.2031)" style="font-weight:normal;font-size:25.60px;">=</text>
<text transform="translate(274.44 558.91) scale(1.1193 0.9718)" style="font-weight:normal;font-size:25.60px;stroke:#000;stroke-width:0.79px;stroke-linejoin:round;">0</text>
<text transform="translate(221.81 597.21) scale(1.1674 0.9839)" style="font-style:italic;font-weight:normal;font-size:25.60px;stroke:#000;stroke-width:0.79px;stroke-linejoin:round;">z</text>
<text transform="translate(242.49 600.98) scale(1.6750 1.2031)" style="font-weight:normal;font-size:25.60px;">=</text>
<text transform="translate(272.59 597.21) scale(1.3342 0.9829)" style="font-weight:normal;font-size:25.60px;stroke:#000;stroke-width:0.79px;stroke-linejoin:round;">1</text>
<text transform="translate(221.81 635.41) scale(1.1674 0.9839)" style="font-style:italic;font-weight:normal;font-size:25.60px;stroke:#000;stroke-width:0.79px;stroke-linejoin:round;">z</text>
<text transform="translate(242.49 639.18) scale(1.6750 1.2031)" style="font-weight:normal;font-size:25.60px;">=</text>
<text transform="translate(274.16 635.41) scale(1.1899 0.9829)" style="font-weight:normal;font-size:25.60px;stroke:#000;stroke-width:0.79px;stroke-linejoin:round;">2</text>
<text transform="translate(221.81 673.61) scale(1.1674 0.9839)" style="font-style:italic;font-weight:normal;font-size:25.60px;stroke:#000;stroke-width:0.79px;stroke-linejoin:round;">z</text>
<text transform="translate(242.49 677.38) scale(1.6750 1.2031)" style="font-weight:normal;font-size:25.60px;">=</text>
<text transform="translate(274.07 673.61) scale(1.1585 0.9773)" style="font-weight:normal;font-size:25.60px;stroke:#000;stroke-width:0.79px;stroke-linejoin:round;">3</text>
<text transform="translate(416.21 558.91) scale(1.1674 0.9839)" style="font-style:italic;font-weight:normal;font-size:25.60px;stroke:#000;stroke-width:0.79px;stroke-linejoin:round;">z</text>
<text transform="translate(436.89 562.68) scale(1.6750 1.2031)" style="font-weight:normal;font-size:25.60px;">=</text>
<text transform="translate(469.29 558.91) scale(1.0399 0.9886)" style="font-weight:normal;font-size:25.60px;stroke:#000;stroke-width:0.79px;stroke-linejoin:round;">4</text>
<text transform="translate(416.21 597.21) scale(1.1674 0.9839)" style="font-style:italic;font-weight:normal;font-size:25.60px;stroke:#000;stroke-width:0.79px;stroke-linejoin:round;">z</text>
<text transform="translate(436.89 600.98) scale(1.6750 1.2031)" style="font-weight:normal;font-size:25.60px;">=</text>
<text transform="translate(468.22 597.21) scale(1.1792 0.9886)" style="font-weight:normal;font-size:25.60px;stroke:#000;stroke-width:0.79px;stroke-linejoin:round;">5</text>
<text transform="translate(416.21 635.41) scale(1.1674 0.9839)" style="font-style:italic;font-weight:normal;font-size:25.60px;stroke:#000;stroke-width:0.79px;stroke-linejoin:round;">z</text>
<text transform="translate(436.89 639.18) scale(1.6750 1.2031)" style="font-weight:normal;font-size:25.60px;">=</text>
<text transform="translate(468.61 635.41) scale(1.1193 0.9773)" style="font-weight:normal;font-size:25.60px;stroke:#000;stroke-width:0.79px;stroke-linejoin:round;">6</text>
</g>
<g transform="translate(33.3 625.1) rotate(-90)">
<text transform="translate(-0.10 -0.45) scale(1.0992 1.0000)" style="font-weight:normal;font-size:34.60px;stroke:#000;stroke-width:0.90px;stroke-linejoin:round;">log</text>
<text transform="translate(47.95 5.35) scale(1.1691 1.0032)" style="font-weight:normal;font-size:23.00px;stroke:#000;stroke-width:0.50px;stroke-linejoin:round;">10</text>
<text transform="translate(80.83 0.27) scale(0.8615 1.0586)" style="font-weight:normal;font-size:34.60px;stroke:#000;stroke-width:0.60px;stroke-linejoin:round;">(</text>
<text transform="translate(94.32 -0.44) scale(1.0807 0.9686)" style="font-weight:normal;font-size:34.60px;stroke:#000;stroke-width:0.90px;stroke-linejoin:round;">d</text>
<text transform="translate(114.91 -0.46) scale(1.0370 1.0192)" style="font-weight:normal;font-size:34.60px;stroke:#000;stroke-width:0.90px;stroke-linejoin:round;">N</text>
<text transform="translate(146.56 7.58) scale(1.4978 1.4252)" style="font-weight:normal;font-size:34.60px;stroke:#000;stroke-width:0.35px;stroke-linejoin:round;">/</text>
<text transform="translate(164.41 -0.44) scale(1.0982 0.9686)" style="font-weight:normal;font-size:34.60px;stroke:#000;stroke-width:0.90px;stroke-linejoin:round;">d</text>
<text transform="translate(186.30 -0.45) scale(1.0992 1.0000)" style="font-weight:normal;font-size:34.60px;stroke:#000;stroke-width:0.90px;stroke-linejoin:round;">log</text>
<text transform="translate(234.35 5.35) scale(1.1691 1.0032)" style="font-weight:normal;font-size:23.00px;stroke:#000;stroke-width:0.50px;stroke-linejoin:round;">10</text>
<text transform="translate(265.43 0.27) scale(0.8615 1.0586)" style="font-weight:normal;font-size:34.60px;stroke:#000;stroke-width:0.60px;stroke-linejoin:round;">(</text>
<text transform="translate(278.94 -0.13) scale(1.1139 1.0337)" style="font-weight:normal;font-size:34.60px;stroke:#000;stroke-width:0.25px;stroke-linejoin:round;">M</text>
<text transform="translate(313.42 5.24) scale(0.7945 0.6538)" style="font-weight:normal;font-size:24.00px;font-family:'DejaVu Sans',sans-serif;stroke:#000;stroke-width:0.50px;stroke-linejoin:round;">∗</text>
<text transform="translate(331.27 7.58) scale(1.5177 1.4252)" style="font-weight:normal;font-size:34.60px;stroke:#000;stroke-width:0.35px;stroke-linejoin:round;">/</text>
<text transform="translate(349.93 -0.13) scale(1.1373 1.0337)" style="font-weight:normal;font-size:34.60px;stroke:#000;stroke-width:0.25px;stroke-linejoin:round;">M</text>
<text transform="translate(384.92 7.52) scale(1.1472 1.1288)" style="font-weight:normal;font-size:24.00px;font-family:'DejaVu Sans',sans-serif;stroke:#000;stroke-width:0.40px;stroke-linejoin:round;">⊙</text>
<text transform="translate(409.54 0.27) scale(0.9703 1.0586)" style="font-weight:normal;font-size:34.60px;stroke:#000;stroke-width:0.60px;stroke-linejoin:round;">)</text>
<text transform="translate(422.11 -0.12) scale(1.1880 1.0000)" style="font-weight:normal;font-size:34.60px;stroke:#000;stroke-width:0.25px;stroke-linejoin:round;">Mpc</text>
<text transform="translate(500.18 -13.65) scale(1.2828 0.9839)" style="font-weight:normal;font-size:23.00px;stroke:#000;stroke-width:0.30px;stroke-linejoin:round;">3</text>
<text transform="translate(517.42 0.27) scale(1.0010 1.0586)" style="font-weight:normal;font-size:34.60px;stroke:#000;stroke-width:0.60px;stroke-linejoin:round;">)</text>
</g>
</svg>
</body></html>
